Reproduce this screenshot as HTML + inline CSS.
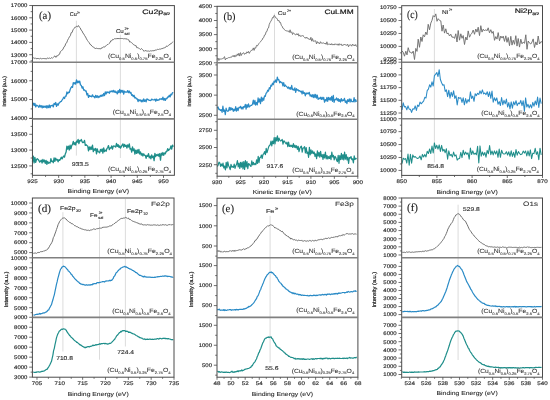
<!DOCTYPE html><html><head><meta charset="utf-8"><style>html,body{margin:0;padding:0;background:#fff;width:550px;height:400px;overflow:hidden}svg{display:block;will-change:transform}.tk{stroke:#4a4a4a;stroke-width:0.8}.fr{fill:none;stroke:#4a4a4a;stroke-width:1}.dv{stroke:#808080;stroke-width:1.6}text{font-family:"Liberation Sans",sans-serif;fill:#3a3a3a;text-rendering:geometricPrecision}.tl{font-size:5.2px;fill:#303030;stroke:#303030;stroke-width:0.16px}.xl{font-size:5.8px;fill:#2a2a2a;stroke:#2a2a2a;stroke-width:0.1px}.yl{font-size:5.4px;fill:#222;stroke:#222;stroke-width:0.22px}.an{font-size:5.6px;fill:#2a2a2a;stroke:#2a2a2a;stroke-width:0.12px}.sup{font-size:3.9px;fill:#333;stroke:#333;stroke-width:0.15px}.smp{font-size:6.1px;stroke:#3a3a3a;stroke-width:0.1px}.sb{font-size:3.7px;fill:#555;stroke:#555;stroke-width:0.14px}.ttl{font-size:6.4px;fill:#1a1a1a;stroke:#1a1a1a;stroke-width:0.2px}.ttl2{font-size:6.3px;fill:#2a2a2a;stroke:#2a2a2a;stroke-width:0.05px}.lab{font-family:"Liberation Serif",serif;font-size:11px;fill:#1a1a1a;stroke:#1a1a1a;stroke-width:0.1px}</style></head><body><svg width="550" height="400" viewBox="0 0 550 400">
<line x1="76.4" y1="20.7" x2="76.4" y2="155.6" stroke="#d8d8d8" stroke-width="0.9"/>
<line x1="120.4" y1="34.7" x2="120.4" y2="158" stroke="#d8d8d8" stroke-width="0.9"/>
<line x1="274.5" y1="13.5" x2="274.5" y2="162.4" stroke="#d8d8d8" stroke-width="0.9"/>
<line x1="434.4" y1="9" x2="434.4" y2="162.4" stroke="#d8d8d8" stroke-width="0.9"/>
<line x1="62.9" y1="212.2" x2="62.9" y2="351.5" stroke="#d8d8d8" stroke-width="0.9"/>
<line x1="99.5" y1="219.7" x2="99.5" y2="359.7" stroke="#d8d8d8" stroke-width="0.9"/>
<line x1="125.4" y1="199" x2="125.4" y2="346.5" stroke="#d8d8d8" stroke-width="0.9"/>
<line x1="270.1" y1="215.8" x2="270.1" y2="362.5" stroke="#d8d8d8" stroke-width="0.9"/>
<line x1="458.1" y1="204.7" x2="458.1" y2="360" stroke="#d8d8d8" stroke-width="0.9"/>
<path d="M32.5,58.4 L33.4,57.8 L34.3,58.5 L35.2,57.8 L36.1,58.8 L37.0,58.5 L37.9,58.5 L38.8,58.6 L39.7,59.0 L40.6,58.1 L41.5,58.8 L42.4,58.6 L43.3,58.5 L44.2,58.6 L45.1,58.6 L46.0,58.8 L46.9,58.7 L47.8,57.9 L48.7,58.5 L49.6,58.0 L50.5,58.5 L51.4,57.6 L52.3,58.4 L53.2,57.5 L54.1,56.4 L55.0,55.9 L55.9,57.4 L56.8,55.7 L57.7,56.0 L58.6,54.6 L59.5,54.3 L60.4,51.6 L61.3,51.0 L62.2,50.1 L63.1,49.0 L64.0,46.8 L64.9,46.2 L65.8,43.4 L66.7,42.8 L67.6,40.2 L68.5,38.6 L69.4,36.9 L70.3,35.8 L71.2,32.7 L72.1,32.5 L73.0,29.8 L73.9,28.8 L74.8,27.3 L75.7,27.2 L76.6,26.2 L77.5,26.8 L78.4,25.5 L79.3,27.1 L80.2,27.8 L81.1,30.1 L82.0,30.8 L82.9,33.0 L83.8,34.0 L84.7,35.7 L85.6,37.0 L86.5,38.9 L87.4,40.4 L88.3,41.6 L89.2,42.7 L90.1,44.4 L91.0,44.8 L91.9,46.1 L92.8,46.8 L93.7,47.3 L94.6,47.8 L95.5,49.0 L96.4,48.0 L97.3,48.5 L98.2,48.6 L99.1,48.7 L100.0,48.6 L100.9,49.0 L101.8,47.6 L102.7,47.8 L103.6,46.7 L104.5,47.2 L105.4,46.1 L106.3,45.6 L107.2,44.6 L108.1,44.5 L109.0,43.5 L109.9,42.8 L110.8,40.8 L111.7,40.9 L112.6,39.4 L113.5,39.6 L114.4,38.7 L115.3,38.8 L116.2,38.5 L117.1,39.0 L118.0,38.0 L118.9,38.9 L119.8,38.5 L120.7,38.5 L121.6,38.5 L122.5,38.5 L123.4,38.8 L124.3,38.7 L125.2,38.6 L126.1,39.3 L127.0,38.6 L127.9,39.7 L128.8,39.9 L129.7,42.1 L130.6,41.9 L131.5,42.6 L132.4,43.3 L133.3,44.5 L134.2,44.9 L135.1,45.7 L136.0,45.5 L136.9,47.9 L137.8,47.6 L138.7,48.2 L139.6,48.7 L140.5,49.6 L141.4,48.5 L142.3,49.4 L143.2,50.1 L144.1,51.4 L145.0,50.4 L145.9,50.8 L146.8,51.0 L147.7,51.1 L148.6,51.0 L149.5,51.3 L150.4,50.8 L151.3,51.0 L152.2,50.6 L153.1,51.0 L154.0,50.3 L154.9,50.6 L155.8,49.9 L156.7,50.1 L157.6,49.2 L158.5,49.5 L159.4,49.1 L160.3,49.2 L161.2,48.7 L162.1,48.8 L163.0,48.0 L163.9,48.1 L164.8,47.6 L165.7,47.3 L166.6,45.9 L167.5,46.4 L168.4,45.4 L169.3,45.0 L170.2,43.9 L171.1,43.8 L172.0,42.8 L172.9,41.6" fill="none" stroke="#6e6e6e" stroke-width="0.95" stroke-linejoin="round"/>
<path d="M32.5,104.4 L33.3,103.2 L34.1,105.5 L34.9,103.3 L35.7,106.9 L36.5,105.2 L37.3,105.6 L38.1,106.0 L38.9,107.3 L39.7,105.2 L40.5,106.9 L41.3,105.7 L42.1,107.9 L42.9,105.8 L43.7,107.4 L44.5,106.3 L45.3,107.3 L46.1,105.7 L46.9,108.1 L47.7,105.8 L48.5,107.6 L49.3,105.0 L50.1,107.7 L50.9,105.6 L51.7,105.7 L52.5,105.1 L53.3,106.9 L54.1,103.3 L54.9,104.4 L55.7,102.5 L56.5,106.4 L57.3,103.9 L58.1,105.2 L58.9,103.3 L59.7,102.5 L60.5,101.6 L61.3,101.3 L62.1,100.0 L62.9,98.8 L63.7,97.3 L64.5,98.5 L65.3,96.1 L66.1,96.2 L66.9,92.0 L67.7,93.7 L68.5,92.2 L69.3,92.5 L70.1,89.7 L70.9,87.8 L71.7,86.7 L72.5,87.3 L73.3,82.7 L74.1,83.9 L74.9,82.6 L75.7,84.1 L76.5,79.8 L77.3,82.8 L78.1,81.1 L78.9,82.6 L79.7,81.1 L80.5,85.0 L81.3,85.3 L82.1,88.2 L82.9,86.8 L83.7,90.0 L84.5,89.8 L85.3,91.0 L86.1,90.8 L86.9,94.9 L87.7,93.5 L88.5,97.4 L89.3,95.5 L90.1,96.3 L90.9,96.2 L91.7,96.8 L92.5,94.8 L93.3,96.5 L94.1,96.7 L94.9,97.8 L95.7,95.3 L96.5,97.3 L97.3,95.8 L98.1,97.7 L98.9,96.3 L99.7,97.0 L100.5,95.4 L101.3,96.2 L102.1,94.9 L102.9,96.1 L103.7,93.5 L104.5,95.6 L105.3,91.9 L106.1,94.0 L106.9,91.8 L107.7,92.6 L108.5,92.2 L109.3,93.2 L110.1,91.1 L110.9,91.9 L111.7,90.9 L112.5,91.7 L113.3,90.4 L114.1,92.3 L114.9,90.9 L115.7,92.5 L116.5,91.9 L117.3,93.9 L118.1,90.7 L118.9,92.7 L119.7,89.4 L120.5,92.8 L121.3,90.3 L122.1,92.1 L122.9,90.4 L123.7,94.1 L124.5,91.1 L125.3,92.0 L126.1,92.2 L126.9,92.1 L127.7,90.6 L128.5,92.7 L129.3,91.1 L130.1,93.1 L130.9,92.5 L131.7,95.4 L132.5,94.8 L133.3,96.7 L134.1,95.4 L134.9,98.0 L135.7,97.5 L136.5,98.8 L137.3,98.8 L138.1,101.6 L138.9,99.5 L139.7,100.7 L140.5,100.0 L141.3,101.8 L142.1,100.1 L142.9,101.7 L143.7,98.9 L144.5,101.4 L145.3,99.9 L146.1,101.8 L146.9,98.8 L147.7,99.4 L148.5,99.9 L149.3,100.3 L150.1,100.4 L150.9,100.5 L151.7,99.2 L152.5,99.6 L153.3,99.8 L154.1,99.9 L154.9,99.1 L155.7,101.2 L156.5,99.1 L157.3,100.4 L158.1,100.0 L158.9,100.2 L159.7,98.8 L160.5,99.2 L161.3,98.7 L162.1,99.6 L162.9,97.2 L163.7,100.2 L164.5,98.5 L165.3,100.4 L166.1,98.3 L166.9,98.7 L167.7,97.0 L168.5,97.1 L169.3,95.3 L170.1,96.9 L170.9,94.2 L171.7,94.8 L172.5,92.6 L173.3,92.6" fill="none" stroke="#2b8bc6" stroke-width="1.3" stroke-linejoin="round"/>
<path d="M32.5,161.7 L33.3,156.2 L34.1,162.8 L34.9,157.4 L35.7,162.4 L36.5,159.5 L37.3,158.8 L38.1,159.5 L38.9,160.5 L39.7,162.1 L40.5,161.2 L41.3,160.3 L42.1,163.0 L42.9,159.5 L43.7,161.9 L44.5,160.1 L45.3,163.4 L46.1,160.4 L46.9,164.3 L47.7,161.4 L48.5,163.3 L49.3,162.7 L50.1,163.0 L50.9,158.6 L51.7,161.5 L52.5,161.2 L53.3,162.7 L54.1,157.9 L54.9,161.3 L55.7,158.2 L56.5,160.1 L57.3,159.4 L58.1,161.9 L58.9,159.7 L59.7,160.4 L60.5,158.9 L61.3,157.2 L62.1,158.9 L62.9,157.2 L63.7,156.0 L64.5,157.1 L65.3,153.9 L66.1,152.1 L66.9,146.1 L67.7,149.2 L68.5,146.2 L69.3,150.0 L70.1,145.1 L70.9,148.8 L71.7,145.7 L72.5,144.4 L73.3,141.5 L74.1,144.7 L74.9,142.7 L75.7,145.0 L76.5,141.1 L77.3,142.2 L78.1,139.3 L78.9,143.6 L79.7,140.5 L80.5,140.8 L81.3,139.5 L82.1,141.8 L82.9,142.7 L83.7,142.2 L84.5,140.4 L85.3,145.4 L86.1,144.7 L86.9,145.4 L87.7,146.0 L88.5,150.8 L89.3,146.9 L90.1,149.6 L90.9,146.9 L91.7,149.4 L92.5,145.1 L93.3,151.7 L94.1,148.9 L94.9,150.3 L95.7,148.3 L96.5,153.9 L97.3,148.9 L98.1,151.8 L98.9,151.9 L99.7,152.7 L100.5,149.4 L101.3,151.2 L102.1,148.9 L102.9,153.2 L103.7,148.0 L104.5,151.5 L105.3,150.2 L106.1,151.2 L106.9,148.6 L107.7,147.6 L108.5,145.6 L109.3,149.7 L110.1,148.0 L110.9,148.2 L111.7,145.9 L112.5,149.1 L113.3,146.2 L114.1,146.0 L114.9,146.4 L115.7,147.1 L116.5,143.3 L117.3,146.4 L118.1,144.6 L118.9,147.4 L119.7,145.9 L120.5,148.2 L121.3,146.6 L122.1,145.1 L122.9,143.9 L123.7,147.0 L124.5,144.4 L125.3,146.4 L126.1,145.2 L126.9,148.2 L127.7,144.9 L128.5,147.0 L129.3,143.9 L130.1,149.1 L130.9,148.7 L131.7,152.2 L132.5,146.9 L133.3,150.6 L134.1,148.9 L134.9,154.1 L135.7,150.2 L136.5,153.4 L137.3,149.9 L138.1,153.1 L138.9,149.4 L139.7,154.0 L140.5,151.9 L141.3,155.2 L142.1,153.5 L142.9,156.0 L143.7,153.8 L144.5,155.3 L145.3,155.3 L146.1,158.3 L146.9,155.3 L147.7,156.4 L148.5,153.6 L149.3,157.8 L150.1,156.2 L150.9,158.8 L151.7,154.9 L152.5,157.6 L153.3,156.1 L154.1,160.6 L154.9,153.4 L155.7,156.5 L156.5,154.7 L157.3,155.6 L158.1,154.1 L158.9,156.3 L159.7,153.7 L160.5,160.2 L161.3,153.2 L162.1,155.2 L162.9,152.5 L163.7,155.3 L164.5,153.0 L165.3,153.7 L166.1,151.5 L166.9,151.5 L167.7,148.6 L168.5,150.5 L169.3,149.4 L170.1,148.8 L170.9,145.9 L171.7,149.1 L172.5,145.1 L173.3,146.8" fill="none" stroke="#1f8e8a" stroke-width="1.3" stroke-linejoin="round"/>
<path d="M217.3,59.4 L218.1,58.1 L218.9,60.5 L219.7,58.6 L220.5,59.1 L221.3,59.0 L222.1,58.9 L222.9,58.4 L223.7,58.2 L224.5,56.6 L225.3,59.9 L226.1,58.4 L226.9,58.6 L227.7,58.2 L228.5,57.6 L229.3,57.7 L230.1,57.0 L230.9,57.5 L231.7,57.1 L232.5,55.7 L233.3,56.7 L234.1,55.1 L234.9,57.1 L235.7,55.3 L236.5,56.1 L237.3,53.9 L238.1,55.5 L238.9,53.2 L239.7,56.1 L240.5,52.6 L241.3,55.5 L242.1,53.6 L242.9,53.3 L243.7,52.7 L244.5,54.4 L245.3,53.2 L246.1,53.8 L246.9,51.8 L247.7,53.0 L248.5,51.4 L249.3,53.4 L250.1,51.7 L250.9,51.0 L251.7,50.0 L252.5,50.1 L253.3,47.9 L254.1,50.4 L254.9,47.6 L255.7,48.2 L256.5,45.4 L257.3,46.0 L258.1,44.9 L258.9,43.5 L259.7,42.6 L260.5,41.8 L261.3,40.6 L262.1,40.0 L262.9,38.0 L263.7,37.6 L264.5,35.0 L265.3,34.8 L266.1,31.8 L266.9,31.5 L267.7,28.5 L268.5,28.0 L269.3,24.2 L270.1,22.6 L270.9,21.1 L271.7,19.9 L272.5,17.5 L273.3,17.8 L274.1,15.4 L274.9,16.1 L275.7,17.8 L276.5,18.0 L277.3,19.1 L278.1,21.0 L278.9,20.3 L279.7,22.5 L280.5,22.4 L281.3,25.4 L282.1,26.1 L282.9,28.2 L283.7,28.5 L284.5,29.8 L285.3,30.4 L286.1,30.9 L286.9,30.8 L287.7,31.1 L288.5,31.0 L289.3,32.4 L290.1,29.8 L290.9,32.7 L291.7,31.8 L292.5,34.5 L293.3,32.7 L294.1,33.8 L294.9,34.3 L295.7,35.0 L296.5,33.7 L297.3,35.0 L298.1,33.6 L298.9,36.2 L299.7,34.9 L300.5,36.4 L301.3,35.9 L302.1,36.2 L302.9,35.3 L303.7,36.7 L304.5,37.5 L305.3,38.3 L306.1,37.0 L306.9,38.3 L307.7,37.8 L308.5,39.1 L309.3,38.9 L310.1,39.9 L310.9,37.3 L311.7,41.2 L312.5,38.6 L313.3,41.4 L314.1,40.7 L314.9,41.4 L315.7,40.7 L316.5,43.9 L317.3,41.6 L318.1,43.2 L318.9,42.5 L319.7,43.9 L320.5,41.7 L321.3,43.1 L322.1,43.1 L322.9,43.2 L323.7,42.8 L324.5,43.8 L325.3,43.0 L326.1,44.4 L326.9,41.8 L327.7,44.8 L328.5,44.2 L329.3,44.3 L330.1,43.9 L330.9,45.0 L331.7,43.6 L332.5,45.1 L333.3,44.1 L334.1,45.1 L334.9,43.7 L335.7,44.4 L336.5,44.2 L337.3,45.2 L338.1,43.8 L338.9,45.4 L339.7,43.7 L340.5,44.6 L341.3,44.1 L342.1,45.8 L342.9,44.7 L343.7,45.1 L344.5,44.0 L345.3,45.0 L346.1,44.8 L346.9,45.5 L347.7,44.2 L348.5,46.8 L349.3,45.0 L350.1,44.9 L350.9,44.9 L351.7,46.2 L352.5,44.1 L353.3,45.4 L354.1,44.7 L354.9,46.0 L355.7,44.5 L356.5,46.6" fill="none" stroke="#707070" stroke-width="0.9" stroke-linejoin="round"/>
<path d="M217.3,108.3 L218.1,106.9 L218.9,109.6 L219.7,109.2 L220.5,110.5 L221.3,109.6 L222.1,112.3 L222.9,106.2 L223.7,111.5 L224.5,110.0 L225.3,114.7 L226.1,108.1 L226.9,110.6 L227.7,111.3 L228.5,111.0 L229.3,107.3 L230.1,110.3 L230.9,107.5 L231.7,109.7 L232.5,108.5 L233.3,111.4 L234.1,109.2 L234.9,110.8 L235.7,106.6 L236.5,111.1 L237.3,108.2 L238.1,110.6 L238.9,107.3 L239.7,107.7 L240.5,106.3 L241.3,108.9 L242.1,107.0 L242.9,109.1 L243.7,106.5 L244.5,107.2 L245.3,104.4 L246.1,109.1 L246.9,104.7 L247.7,107.3 L248.5,103.8 L249.3,107.0 L250.1,106.1 L250.9,105.4 L251.7,105.3 L252.5,104.2 L253.3,100.2 L254.1,104.4 L254.9,100.4 L255.7,105.2 L256.5,102.4 L257.3,104.9 L258.1,97.8 L258.9,102.1 L259.7,98.8 L260.5,103.7 L261.3,97.2 L262.1,101.3 L262.9,97.9 L263.7,100.3 L264.5,95.9 L265.3,96.4 L266.1,93.2 L266.9,92.5 L267.7,90.2 L268.5,91.2 L269.3,87.7 L270.1,89.0 L270.9,85.1 L271.7,86.0 L272.5,83.2 L273.3,84.7 L274.1,81.0 L274.9,82.3 L275.7,79.9 L276.5,82.3 L277.3,77.0 L278.1,80.0 L278.9,79.7 L279.7,82.8 L280.5,81.5 L281.3,82.7 L282.1,82.4 L282.9,86.0 L283.7,82.6 L284.5,86.5 L285.3,85.0 L286.1,86.2 L286.9,86.7 L287.7,88.2 L288.5,87.0 L289.3,88.9 L290.1,87.5 L290.9,89.5 L291.7,85.3 L292.5,89.7 L293.3,89.1 L294.1,90.3 L294.9,87.8 L295.7,92.3 L296.5,88.7 L297.3,90.1 L298.1,89.7 L298.9,91.1 L299.7,90.6 L300.5,91.8 L301.3,91.1 L302.1,94.0 L302.9,90.9 L303.7,93.5 L304.5,92.6 L305.3,95.8 L306.1,92.9 L306.9,94.0 L307.7,93.0 L308.5,93.9 L309.3,92.4 L310.1,96.2 L310.9,94.8 L311.7,96.7 L312.5,94.7 L313.3,97.6 L314.1,94.4 L314.9,97.7 L315.7,94.4 L316.5,98.1 L317.3,95.1 L318.1,99.5 L318.9,98.1 L319.7,98.7 L320.5,97.2 L321.3,99.5 L322.1,97.2 L322.9,99.4 L323.7,97.4 L324.5,102.2 L325.3,99.6 L326.1,101.0 L326.9,97.3 L327.7,101.5 L328.5,97.4 L329.3,99.9 L330.1,97.6 L330.9,100.4 L331.7,96.3 L332.5,101.4 L333.3,95.3 L334.1,102.4 L334.9,99.5 L335.7,99.6 L336.5,97.9 L337.3,100.6 L338.1,98.5 L338.9,101.5 L339.7,99.5 L340.5,102.2 L341.3,98.5 L342.1,101.1 L342.9,99.9 L343.7,100.5 L344.5,98.3 L345.3,102.5 L346.1,100.8 L346.9,103.7 L347.7,99.7 L348.5,101.5 L349.3,98.8 L350.1,102.1 L350.9,99.0 L351.7,101.6 L352.5,101.5 L353.3,101.8 L354.1,97.6 L354.9,102.0 L355.7,99.6 L356.5,101.7" fill="none" stroke="#2b8bc6" stroke-width="1.2" stroke-linejoin="round"/>
<path d="M217.4,166.6 L218.2,164.9 L219.0,162.1 L219.8,162.9 L220.6,166.4 L221.4,164.0 L222.2,166.1 L223.0,163.1 L223.8,168.0 L224.6,166.0 L225.4,170.0 L226.2,162.3 L227.0,167.9 L227.8,161.8 L228.6,165.7 L229.4,167.2 L230.2,169.6 L231.0,164.3 L231.8,167.2 L232.6,166.5 L233.4,167.4 L234.2,164.2 L235.0,168.4 L235.8,165.8 L236.6,164.3 L237.4,160.7 L238.2,167.0 L239.0,163.1 L239.8,168.4 L240.6,162.4 L241.4,167.2 L242.2,162.1 L243.0,169.0 L243.8,161.5 L244.6,169.5 L245.4,160.6 L246.2,166.8 L247.0,161.7 L247.8,168.7 L248.6,163.5 L249.4,164.4 L250.2,165.8 L251.0,166.4 L251.8,160.8 L252.6,165.0 L253.4,162.4 L254.2,164.7 L255.0,163.6 L255.8,164.7 L256.6,159.9 L257.4,163.5 L258.2,156.3 L259.0,162.7 L259.8,157.5 L260.6,157.4 L261.4,155.0 L262.2,158.5 L263.0,154.5 L263.8,153.8 L264.6,151.6 L265.4,154.6 L266.2,148.3 L267.0,152.7 L267.8,149.8 L268.6,147.1 L269.4,145.4 L270.2,145.0 L271.0,141.2 L271.8,145.8 L272.6,141.1 L273.4,143.7 L274.2,137.5 L275.0,143.9 L275.8,137.6 L276.6,140.9 L277.4,135.8 L278.2,141.4 L279.0,138.1 L279.8,140.2 L280.6,141.0 L281.4,140.5 L282.2,139.4 L283.0,144.2 L283.8,140.8 L284.6,141.5 L285.4,142.9 L286.2,143.8 L287.0,142.2 L287.8,146.7 L288.6,142.0 L289.4,146.5 L290.2,145.2 L291.0,146.6 L291.8,145.2 L292.6,147.4 L293.4,143.7 L294.2,147.4 L295.0,145.2 L295.8,147.7 L296.6,145.7 L297.4,149.3 L298.2,146.3 L299.0,151.6 L299.8,148.5 L300.6,147.0 L301.4,146.1 L302.2,152.2 L303.0,148.0 L303.8,147.9 L304.6,146.7 L305.4,153.0 L306.2,147.7 L307.0,153.4 L307.8,152.1 L308.6,157.3 L309.4,147.3 L310.2,154.8 L311.0,149.8 L311.8,153.6 L312.6,150.8 L313.4,153.7 L314.2,152.0 L315.0,156.3 L315.8,153.8 L316.6,158.6 L317.4,150.8 L318.2,156.1 L319.0,152.3 L319.8,157.1 L320.6,151.4 L321.4,156.7 L322.2,154.6 L323.0,159.5 L323.8,154.4 L324.6,158.0 L325.4,152.1 L326.2,158.8 L327.0,155.5 L327.8,159.0 L328.6,156.6 L329.4,158.5 L330.2,155.7 L331.0,159.6 L331.8,152.0 L332.6,156.9 L333.4,155.4 L334.2,159.8 L335.0,156.3 L335.8,157.5 L336.6,160.2 L337.4,161.6 L338.2,155.3 L339.0,163.3 L339.8,155.5 L340.6,159.7 L341.4,153.4 L342.2,159.4 L343.0,154.5 L343.8,159.9 L344.6,152.1 L345.4,159.2 L346.2,154.5 L347.0,160.0 L347.8,157.2 L348.6,163.4 L349.4,157.5 L350.2,158.2 L351.0,156.5 L351.8,159.7 L352.6,158.8 L353.4,162.9 L354.2,155.8 L355.0,159.5 L355.8,158.3 L356.6,158.9" fill="none" stroke="#1f8e8a" stroke-width="1.2" stroke-linejoin="round"/>
<path d="M402.0,50.9 L403.2,52.2 L404.5,56.2 L405.8,51.2 L407.0,54.9 L408.2,47.7 L409.5,52.1 L410.8,52.4 L412.0,53.3 L413.2,51.1 L414.5,59.5 L415.8,48.4 L417.0,51.4 L418.2,39.2 L419.5,47.3 L420.8,37.0 L422.0,41.5 L423.2,34.8 L424.5,36.8 L425.8,32.0 L427.0,34.7 L428.2,24.3 L429.5,29.8 L430.8,23.1 L432.0,20.3 L433.2,15.6 L434.5,17.0 L435.8,13.9 L437.0,21.3 L438.2,18.7 L439.5,20.4 L440.8,20.9 L442.0,31.2 L443.2,25.0 L444.5,33.1 L445.8,28.8 L447.0,33.8 L448.2,33.1 L449.5,36.0 L450.8,34.2 L452.0,37.3 L453.2,36.8 L454.5,38.4 L455.8,33.8 L457.0,42.0 L458.2,30.5 L459.5,40.2 L460.8,33.8 L462.0,38.3 L463.2,35.5 L464.5,44.5 L465.8,37.0 L467.0,40.0 L468.2,30.9 L469.5,37.2 L470.8,34.4 L472.0,33.1 L473.2,30.0 L474.5,34.3 L475.8,29.0 L477.0,32.1 L478.2,27.2 L479.5,35.6 L480.8,25.7 L482.0,32.1 L483.2,29.2 L484.5,31.0 L485.8,29.6 L487.0,30.8 L488.2,27.8 L489.5,32.8 L490.8,29.7 L492.0,33.3 L493.2,31.4 L494.5,40.3 L495.8,36.6 L497.0,39.1 L498.2,32.6 L499.5,40.7 L500.8,36.0 L502.0,38.1 L503.2,36.1 L504.5,41.4 L505.8,35.8 L507.0,42.3 L508.2,37.5 L509.5,45.7 L510.8,36.3 L512.0,45.1 L513.2,40.2 L514.5,44.3 L515.8,35.7 L517.0,46.1 L518.2,38.5 L519.5,47.1 L520.8,39.2 L522.0,43.8 L523.2,42.1 L524.5,43.3 L525.8,34.8 L527.0,49.3 L528.2,41.0 L529.5,43.1 L530.8,44.0 L532.0,42.0 L533.2,38.9 L534.5,47.5 L535.8,41.9 L537.0,45.0 L538.2,36.0 L539.5,44.0 L540.8,41.8 L542.0,41.9" fill="none" stroke="#707070" stroke-width="0.95" stroke-linejoin="round"/>
<path d="M402.0,110.0 L403.2,102.8 L404.4,106.9 L405.6,106.6 L406.8,109.8 L408.0,105.8 L409.2,109.2 L410.4,109.3 L411.6,112.4 L412.8,108.8 L414.0,109.3 L415.2,105.9 L416.4,110.4 L417.6,105.0 L418.8,106.4 L420.0,102.1 L421.2,103.8 L422.4,102.4 L423.6,101.1 L424.8,97.3 L426.0,98.0 L427.2,90.6 L428.4,89.1 L429.6,84.8 L430.8,87.1 L432.0,81.8 L433.2,86.0 L434.4,75.7 L435.6,74.4 L436.8,72.5 L438.0,76.5 L439.2,69.7 L440.4,79.5 L441.6,82.8 L442.8,85.2 L444.0,84.7 L445.2,91.4 L446.4,89.9 L447.6,96.6 L448.8,90.2 L450.0,98.2 L451.2,92.2 L452.4,96.4 L453.6,90.8 L454.8,98.4 L456.0,95.8 L457.2,104.9 L458.4,97.4 L459.6,98.2 L460.8,97.8 L462.0,102.4 L463.2,97.8 L464.4,104.8 L465.6,98.6 L466.8,103.2 L468.0,99.6 L469.2,101.8 L470.4,91.8 L471.6,98.4 L472.8,96.1 L474.0,101.3 L475.2,93.7 L476.4,95.6 L477.6,93.3 L478.8,94.5 L480.0,90.9 L481.2,93.7 L482.4,89.9 L483.6,93.9 L484.8,93.0 L486.0,94.6 L487.2,91.7 L488.4,96.5 L489.6,91.9 L490.8,98.3 L492.0,91.1 L493.2,102.2 L494.4,97.8 L495.6,100.7 L496.8,97.9 L498.0,104.2 L499.2,101.6 L500.4,105.5 L501.6,97.5 L502.8,104.8 L504.0,100.3 L505.2,103.8 L506.4,99.1 L507.6,107.0 L508.8,102.6 L510.0,108.9 L511.2,101.9 L512.4,108.2 L513.6,101.8 L514.8,104.8 L516.0,100.7 L517.2,105.6 L518.4,103.0 L519.6,103.7 L520.8,100.4 L522.0,105.6 L523.2,100.7 L524.4,111.3 L525.6,97.9 L526.8,107.0 L528.0,104.3 L529.2,107.9 L530.4,104.8 L531.6,107.9 L532.8,102.4 L534.0,106.2 L535.2,101.0 L536.4,104.8 L537.6,97.1 L538.8,107.4 L540.0,98.1 L541.2,103.7" fill="none" stroke="#2b8bc6" stroke-width="1.05" stroke-linejoin="round"/>
<path d="M402.0,163.6 L403.2,158.2 L404.4,159.3 L405.6,158.6 L406.8,163.0 L408.0,154.1 L409.2,165.3 L410.4,154.3 L411.6,163.2 L412.8,154.9 L414.0,157.3 L415.2,156.5 L416.4,157.9 L417.6,158.5 L418.8,157.9 L420.0,156.0 L421.2,159.8 L422.4,154.4 L423.6,156.9 L424.8,154.4 L426.0,156.9 L427.2,151.3 L428.4,153.5 L429.6,149.0 L430.8,153.5 L432.0,146.0 L433.2,153.0 L434.4,142.9 L435.6,148.5 L436.8,145.3 L438.0,149.1 L439.2,144.9 L440.4,151.4 L441.6,145.4 L442.8,151.1 L444.0,149.4 L445.2,152.7 L446.4,148.7 L447.6,159.2 L448.8,150.8 L450.0,155.7 L451.2,154.4 L452.4,157.0 L453.6,152.1 L454.8,156.1 L456.0,154.9 L457.2,160.1 L458.4,158.7 L459.6,158.4 L460.8,152.4 L462.0,157.6 L463.2,150.2 L464.4,154.8 L465.6,152.1 L466.8,154.3 L468.0,152.9 L469.2,159.1 L470.4,148.1 L471.6,154.5 L472.8,150.8 L474.0,154.3 L475.2,153.1 L476.4,154.8 L477.6,146.3 L478.8,163.0 L480.0,145.9 L481.2,156.2 L482.4,152.0 L483.6,155.2 L484.8,152.5 L486.0,157.2 L487.2,150.4 L488.4,153.7 L489.6,145.5 L490.8,154.7 L492.0,151.0 L493.2,154.9 L494.4,150.9 L495.6,154.0 L496.8,150.9 L498.0,157.3 L499.2,149.0 L500.4,157.3 L501.6,150.3 L502.8,153.4 L504.0,154.1 L505.2,153.8 L506.4,151.8 L507.6,155.0 L508.8,151.8 L510.0,156.3 L511.2,150.8 L512.4,156.4 L513.6,152.3 L514.8,157.3 L516.0,149.6 L517.2,155.2 L518.4,151.6 L519.6,153.6 L520.8,154.6 L522.0,154.0 L523.2,151.1 L524.4,153.1 L525.6,151.0 L526.8,155.9 L528.0,150.9 L529.2,156.0 L530.4,149.9 L531.6,158.6 L532.8,153.2 L534.0,153.6 L535.2,148.3 L536.4,154.4 L537.6,151.8 L538.8,159.7 L540.0,148.2 L541.2,154.9" fill="none" stroke="#1f8e8a" stroke-width="1.05" stroke-linejoin="round"/>
<path d="M33.3,253.3 L34.1,253.2 L34.9,253.1 L35.7,253.0 L36.5,253.4 L37.3,252.6 L38.1,252.8 L38.9,252.2 L39.7,252.5 L40.5,251.6 L41.3,251.7 L42.1,251.4 L42.9,251.7 L43.7,250.8 L44.5,250.9 L45.3,250.4 L46.1,250.6 L46.9,249.5 L47.7,249.2 L48.5,248.0 L49.3,246.8 L50.1,245.1 L50.9,244.1 L51.7,242.7 L52.5,241.0 L53.3,237.7 L54.1,236.3 L54.9,234.0 L55.7,231.9 L56.5,229.4 L57.3,227.3 L58.1,224.6 L58.9,223.1 L59.7,221.3 L60.5,220.4 L61.3,219.3 L62.1,218.5 L62.9,217.9 L63.7,218.0 L64.5,217.9 L65.3,218.5 L66.1,219.0 L66.9,220.3 L67.7,220.8 L68.5,221.5 L69.3,222.2 L70.1,222.7 L70.9,222.8 L71.7,223.8 L72.5,223.8 L73.3,224.4 L74.1,225.2 L74.9,225.9 L75.7,225.9 L76.5,226.6 L77.3,226.5 L78.1,227.6 L78.9,227.4 L79.7,228.3 L80.5,228.1 L81.3,229.0 L82.1,228.9 L82.9,229.4 L83.7,229.5 L84.5,229.8 L85.3,229.7 L86.1,230.4 L86.9,230.0 L87.7,230.4 L88.5,230.2 L89.3,230.7 L90.1,230.0 L90.9,230.1 L91.7,229.9 L92.5,229.6 L93.3,228.9 L94.1,229.4 L94.9,228.9 L95.7,229.5 L96.5,228.7 L97.3,228.7 L98.1,228.5 L98.9,228.5 L99.7,228.0 L100.5,228.2 L101.3,228.1 L102.1,228.0 L102.9,227.1 L103.7,227.3 L104.5,227.2 L105.3,227.2 L106.1,227.0 L106.9,227.2 L107.7,226.8 L108.5,226.6 L109.3,226.0 L110.1,226.2 L110.9,225.7 L111.7,225.8 L112.5,224.6 L113.3,224.4 L114.1,223.6 L114.9,223.4 L115.7,222.3 L116.5,222.1 L117.3,221.4 L118.1,220.8 L118.9,219.9 L119.7,219.7 L120.5,218.7 L121.3,218.4 L122.1,218.5 L122.9,218.3 L123.7,218.0 L124.5,218.0 L125.3,217.3 L126.1,218.1 L126.9,217.7 L127.7,218.5 L128.5,218.0 L129.3,219.5 L130.1,219.4 L130.9,219.8 L131.7,220.6 L132.5,221.1 L133.3,221.3 L134.1,222.1 L134.9,221.6 L135.7,222.3 L136.5,222.6 L137.3,223.0 L138.1,222.8 L138.9,223.9 L139.7,223.9 L140.5,224.2 L141.3,223.6 L142.1,224.8 L142.9,224.6 L143.7,225.0 L144.5,224.8 L145.3,224.9 L146.1,224.9 L146.9,225.2 L147.7,224.5 L148.5,224.9 L149.3,224.9 L150.1,225.1 L150.9,225.2 L151.7,225.1 L152.5,225.2 L153.3,224.9 L154.1,224.8 L154.9,225.0 L155.7,225.0 L156.5,225.3 L157.3,224.8 L158.1,225.5 L158.9,225.0 L159.7,225.4 L160.5,224.9 L161.3,225.4 L162.1,224.4 L162.9,225.1 L163.7,224.7 L164.5,225.0 L165.3,224.7 L166.1,224.9 L166.9,225.4 L167.7,225.2 L168.5,224.7 L169.3,224.7 L170.1,224.4 L170.9,225.2 L171.7,224.7 L172.5,224.6 L173.3,224.6" fill="none" stroke="#686868" stroke-width="0.95" stroke-linejoin="round"/>
<path d="M33.3,315.0 L34.0,315.0 L34.7,315.1 L35.4,314.5 L36.1,314.5 L36.8,314.2 L37.5,314.4 L38.2,314.1 L38.9,314.2 L39.6,313.5 L40.3,314.2 L41.0,313.5 L41.7,313.7 L42.4,313.2 L43.1,313.1 L43.8,312.8 L44.5,313.0 L45.2,312.3 L45.9,312.2 L46.6,311.8 L47.3,311.0 L48.0,310.2 L48.7,310.0 L49.4,308.3 L50.1,307.1 L50.8,305.7 L51.5,304.6 L52.2,302.0 L52.9,299.8 L53.6,297.1 L54.3,294.8 L55.0,291.4 L55.7,288.1 L56.4,284.7 L57.1,281.9 L57.8,278.6 L58.5,276.1 L59.2,273.5 L59.9,271.1 L60.6,269.1 L61.3,268.4 L62.0,267.1 L62.7,266.8 L63.4,266.1 L64.1,266.5 L64.8,266.6 L65.5,267.4 L66.2,268.1 L66.9,269.1 L67.6,269.5 L68.3,270.9 L69.0,271.3 L69.7,272.2 L70.4,272.9 L71.1,274.3 L71.8,274.4 L72.5,276.0 L73.2,276.7 L73.9,277.5 L74.6,278.5 L75.3,279.2 L76.0,279.8 L76.7,280.7 L77.4,281.1 L78.1,281.9 L78.8,282.1 L79.5,283.3 L80.2,283.4 L80.9,284.2 L81.6,284.0 L82.3,284.6 L83.0,284.3 L83.7,284.7 L84.4,284.8 L85.1,285.2 L85.8,285.2 L86.5,284.7 L87.2,285.1 L87.9,285.2 L88.6,284.9 L89.3,284.9 L90.0,285.2 L90.7,284.7 L91.4,284.6 L92.1,284.9 L92.8,283.8 L93.5,284.1 L94.2,283.6 L94.9,283.7 L95.6,283.6 L96.3,283.6 L97.0,282.5 L97.7,282.7 L98.4,282.5 L99.1,282.9 L99.8,282.3 L100.5,282.3 L101.2,282.0 L101.9,281.9 L102.6,281.7 L103.3,281.7 L104.0,281.5 L104.7,282.0 L105.4,281.1 L106.1,281.2 L106.8,280.8 L107.5,281.0 L108.2,280.9 L108.9,280.9 L109.6,280.3 L110.3,280.8 L111.0,280.2 L111.7,280.5 L112.4,279.4 L113.1,278.7 L113.8,276.7 L114.5,276.1 L115.2,274.9 L115.9,273.2 L116.6,272.3 L117.3,272.0 L118.0,270.8 L118.7,270.3 L119.4,269.2 L120.1,269.2 L120.8,268.1 L121.5,267.8 L122.2,267.4 L122.9,267.0 L123.6,266.8 L124.3,266.6 L125.0,266.3 L125.7,267.1 L126.4,266.9 L127.1,267.5 L127.8,267.7 L128.5,268.5 L129.2,268.5 L129.9,269.1 L130.6,269.1 L131.3,269.6 L132.0,270.0 L132.7,270.5 L133.4,270.6 L134.1,271.3 L134.8,271.4 L135.5,272.5 L136.2,272.6 L136.9,272.9 L137.6,273.6 L138.3,274.3 L139.0,274.8 L139.7,275.5 L140.4,275.3 L141.1,275.7 L141.8,276.1 L142.5,276.6 L143.2,276.4 L143.9,277.0 L144.6,276.1 L145.3,276.9 L146.0,276.9 L146.7,277.2 L147.4,277.1 L148.1,277.2 L148.8,277.0 L149.5,277.1 L150.2,277.2 L150.9,277.3 L151.6,277.4 L152.3,277.3 L153.0,277.4 L153.7,277.5 L154.4,277.2 L155.1,277.3 L155.8,277.1 L156.5,277.0 L157.2,276.7 L157.9,276.8 L158.6,276.7 L159.3,276.7 L160.0,276.5 L160.7,276.3 L161.4,276.5 L162.1,276.2 L162.8,276.0 L163.5,276.3 L164.2,275.9 L164.9,276.2 L165.6,275.8 L166.3,276.3 L167.0,276.0 L167.7,276.6 L168.4,276.3 L169.1,276.3 L169.8,276.5 L170.5,276.7 L171.2,277.1 L171.9,276.8 L172.6,277.2 L173.3,277.5" fill="none" stroke="#2b8bc6" stroke-width="1.2" stroke-linejoin="round"/>
<path d="M33.3,372.4 L34.0,372.2 L34.7,372.5 L35.4,372.2 L36.1,372.5 L36.8,371.8 L37.5,372.0 L38.2,371.7 L38.9,372.0 L39.6,372.1 L40.3,371.9 L41.0,371.8 L41.7,371.3 L42.4,371.3 L43.1,371.1 L43.8,371.1 L44.5,370.8 L45.2,370.2 L45.9,369.7 L46.6,369.3 L47.3,369.1 L48.0,367.8 L48.7,366.8 L49.4,365.6 L50.1,364.3 L50.8,362.7 L51.5,361.3 L52.2,358.1 L52.9,355.1 L53.6,350.7 L54.3,348.3 L55.0,344.6 L55.7,341.6 L56.4,338.1 L57.1,335.9 L57.8,334.0 L58.5,332.7 L59.2,331.2 L59.9,330.8 L60.6,330.0 L61.3,329.5 L62.0,329.0 L62.7,329.4 L63.4,328.8 L64.1,329.0 L64.8,329.0 L65.5,329.8 L66.2,330.1 L66.9,331.7 L67.6,332.7 L68.3,333.7 L69.0,334.5 L69.7,335.7 L70.4,335.9 L71.1,337.3 L71.8,337.6 L72.5,338.5 L73.2,339.0 L73.9,339.8 L74.6,340.5 L75.3,341.0 L76.0,341.4 L76.7,342.3 L77.4,342.4 L78.1,343.2 L78.8,343.5 L79.5,344.6 L80.2,344.7 L80.9,345.3 L81.6,345.4 L82.3,346.3 L83.0,346.5 L83.7,347.1 L84.4,347.1 L85.1,347.8 L85.8,347.2 L86.5,347.4 L87.2,346.8 L87.9,346.7 L88.6,346.6 L89.3,346.9 L90.0,346.4 L90.7,346.3 L91.4,346.1 L92.1,346.0 L92.8,345.1 L93.5,345.6 L94.2,345.3 L94.9,345.4 L95.6,344.7 L96.3,345.1 L97.0,344.6 L97.7,344.7 L98.4,344.4 L99.1,344.4 L99.8,343.7 L100.5,344.2 L101.2,343.7 L101.9,343.6 L102.6,343.6 L103.3,343.5 L104.0,343.3 L104.7,343.8 L105.4,343.4 L106.1,343.7 L106.8,343.8 L107.5,344.1 L108.2,343.9 L108.9,343.9 L109.6,343.3 L110.3,343.4 L111.0,343.0 L111.7,342.4 L112.4,341.6 L113.1,340.9 L113.8,340.1 L114.5,339.6 L115.2,338.3 L115.9,337.2 L116.6,335.9 L117.3,335.3 L118.0,334.5 L118.7,333.6 L119.4,332.7 L120.1,332.5 L120.8,331.3 L121.5,331.8 L122.2,330.7 L122.9,330.8 L123.6,330.6 L124.3,330.7 L125.0,330.7 L125.7,331.6 L126.4,331.2 L127.1,331.4 L127.8,331.4 L128.5,332.3 L129.2,332.1 L129.9,332.4 L130.6,332.4 L131.3,333.2 L132.0,333.2 L132.7,333.7 L133.4,333.9 L134.1,334.0 L134.8,334.4 L135.5,335.1 L136.2,335.5 L136.9,335.8 L137.6,336.2 L138.3,336.8 L139.0,336.8 L139.7,337.7 L140.4,337.7 L141.1,338.1 L141.8,338.0 L142.5,338.7 L143.2,339.1 L143.9,339.2 L144.6,338.9 L145.3,339.6 L146.0,339.2 L146.7,339.5 L147.4,339.0 L148.1,339.5 L148.8,339.3 L149.5,339.2 L150.2,339.2 L150.9,339.4 L151.6,339.3 L152.3,339.4 L153.0,339.2 L153.7,339.5 L154.4,339.2 L155.1,339.1 L155.8,339.0 L156.5,339.1 L157.2,338.5 L157.9,338.6 L158.6,339.1 L159.3,338.8 L160.0,338.2 L160.7,338.5 L161.4,338.8 L162.1,338.7 L162.8,338.4 L163.5,338.4 L164.2,338.2 L164.9,338.6 L165.6,338.4 L166.3,338.6 L167.0,338.5 L167.7,338.9 L168.4,338.5 L169.1,339.0 L169.8,339.0 L170.5,339.3 L171.2,339.6 L171.9,339.6 L172.6,339.7 L173.3,339.9" fill="none" stroke="#1f8e8a" stroke-width="1.2" stroke-linejoin="round"/>
<path d="M217.3,251.5 L218.1,250.4 L218.9,251.7 L219.7,250.7 L220.5,252.0 L221.3,251.4 L222.1,252.3 L222.9,251.5 L223.7,251.8 L224.5,251.1 L225.3,252.0 L226.1,251.4 L226.9,251.8 L227.7,251.6 L228.5,251.7 L229.3,250.8 L230.1,251.3 L230.9,250.5 L231.7,251.5 L232.5,250.5 L233.3,251.3 L234.1,250.1 L234.9,251.5 L235.7,250.4 L236.5,250.6 L237.3,250.5 L238.1,250.2 L238.9,250.0 L239.7,249.7 L240.5,249.9 L241.3,250.1 L242.1,249.6 L242.9,249.5 L243.7,248.6 L244.5,249.6 L245.3,249.0 L246.1,249.0 L246.9,248.1 L247.7,247.8 L248.5,247.7 L249.3,247.1 L250.1,246.5 L250.9,246.1 L251.7,244.9 L252.5,244.5 L253.3,243.3 L254.1,242.4 L254.9,240.7 L255.7,240.6 L256.5,239.0 L257.3,238.7 L258.1,236.9 L258.9,236.0 L259.7,234.6 L260.5,233.7 L261.3,232.2 L262.1,231.8 L262.9,230.6 L263.7,229.7 L264.5,228.5 L265.3,227.8 L266.1,227.3 L266.9,226.6 L267.7,225.7 L268.5,226.0 L269.3,225.5 L270.1,225.4 L270.9,224.5 L271.7,225.3 L272.5,225.3 L273.3,226.1 L274.1,226.8 L274.9,228.0 L275.7,227.8 L276.5,228.3 L277.3,228.9 L278.1,229.2 L278.9,229.4 L279.7,230.5 L280.5,230.5 L281.3,231.7 L282.1,231.1 L282.9,232.0 L283.7,233.2 L284.5,234.2 L285.3,234.3 L286.1,235.7 L286.9,235.5 L287.7,236.5 L288.5,236.5 L289.3,237.9 L290.1,237.7 L290.9,239.2 L291.7,238.2 L292.5,239.3 L293.3,239.8 L294.1,239.6 L294.9,239.7 L295.7,240.3 L296.5,240.1 L297.3,240.8 L298.1,240.2 L298.9,240.2 L299.7,240.5 L300.5,240.5 L301.3,240.3 L302.1,241.2 L302.9,240.5 L303.7,241.2 L304.5,240.6 L305.3,241.0 L306.1,240.9 L306.9,241.4 L307.7,240.7 L308.5,241.2 L309.3,240.5 L310.1,240.8 L310.9,240.6 L311.7,241.2 L312.5,240.4 L313.3,240.9 L314.1,240.4 L314.9,241.1 L315.7,240.2 L316.5,240.9 L317.3,240.1 L318.1,240.0 L318.9,239.6 L319.7,239.7 L320.5,239.4 L321.3,239.3 L322.1,239.7 L322.9,239.5 L323.7,239.0 L324.5,238.9 L325.3,238.3 L326.1,238.9 L326.9,238.1 L327.7,238.5 L328.5,237.7 L329.3,238.4 L330.1,238.1 L330.9,237.9 L331.7,237.3 L332.5,237.5 L333.3,237.2 L334.1,237.6 L334.9,236.6 L335.7,236.8 L336.5,236.6 L337.3,237.1 L338.1,235.9 L338.9,236.2 L339.7,235.6 L340.5,236.0 L341.3,235.2 L342.1,235.8 L342.9,234.4 L343.7,234.9 L344.5,235.0 L345.3,234.4 L346.1,233.6 L346.9,233.8 L347.7,233.6 L348.5,234.1 L349.3,234.0 L350.1,233.8 L350.9,234.2 L351.7,233.8 L352.5,233.6 L353.3,234.3 L354.1,233.8 L354.9,234.2 L355.7,233.9 L356.5,234.2" fill="none" stroke="#686868" stroke-width="0.95" stroke-linejoin="round"/>
<path d="M217.3,310.2 L218.0,309.4 L218.7,309.7 L219.4,309.2 L220.1,310.3 L220.8,310.2 L221.5,310.1 L222.2,310.0 L222.9,310.3 L223.6,309.6 L224.3,310.6 L225.0,309.7 L225.7,310.4 L226.4,310.5 L227.1,310.1 L227.8,309.9 L228.5,310.0 L229.2,309.7 L229.9,309.6 L230.6,309.5 L231.3,310.3 L232.0,309.9 L232.7,309.9 L233.4,309.9 L234.1,310.0 L234.8,309.6 L235.5,310.1 L236.2,309.3 L236.9,309.9 L237.6,309.5 L238.3,310.0 L239.0,309.5 L239.7,309.4 L240.4,309.3 L241.1,309.4 L241.8,309.4 L242.5,309.4 L243.2,309.3 L243.9,308.7 L244.6,309.1 L245.3,308.6 L246.0,308.4 L246.7,308.2 L247.4,307.3 L248.1,307.4 L248.8,306.3 L249.5,306.7 L250.2,306.2 L250.9,305.8 L251.6,305.0 L252.3,304.3 L253.0,303.6 L253.7,302.8 L254.4,301.8 L255.1,300.7 L255.8,299.7 L256.5,298.7 L257.2,296.6 L257.9,295.9 L258.6,294.4 L259.3,292.6 L260.0,290.5 L260.7,289.5 L261.4,287.2 L262.1,285.7 L262.8,283.9 L263.5,282.4 L264.2,280.4 L264.9,278.8 L265.6,277.4 L266.3,276.4 L267.0,275.0 L267.7,274.5 L268.4,273.6 L269.1,272.8 L269.8,272.3 L270.5,272.5 L271.2,271.8 L271.9,272.8 L272.6,272.5 L273.3,273.7 L274.0,274.3 L274.7,275.2 L275.4,275.6 L276.1,277.1 L276.8,277.3 L277.5,278.7 L278.2,279.8 L278.9,281.4 L279.6,282.0 L280.3,283.0 L281.0,283.3 L281.7,284.8 L282.4,284.9 L283.1,286.5 L283.8,286.5 L284.5,287.7 L285.2,287.8 L285.9,288.9 L286.6,289.2 L287.3,289.9 L288.0,290.1 L288.7,291.1 L289.4,291.3 L290.1,292.1 L290.8,292.1 L291.5,292.9 L292.2,292.7 L292.9,293.5 L293.6,292.9 L294.3,293.9 L295.0,293.2 L295.7,293.7 L296.4,294.2 L297.1,294.1 L297.8,294.0 L298.5,294.8 L299.2,294.4 L299.9,295.0 L300.6,294.6 L301.3,295.3 L302.0,295.1 L302.7,295.2 L303.4,295.4 L304.1,295.3 L304.8,295.3 L305.5,295.5 L306.2,295.5 L306.9,295.6 L307.6,295.4 L308.3,295.8 L309.0,295.9 L309.7,295.6 L310.4,295.3 L311.1,295.7 L311.8,295.7 L312.5,295.6 L313.2,295.6 L313.9,295.1 L314.6,295.3 L315.3,295.7 L316.0,295.1 L316.7,295.6 L317.4,295.4 L318.1,295.1 L318.8,295.0 L319.5,294.9 L320.2,294.8 L320.9,295.4 L321.6,294.8 L322.3,294.4 L323.0,294.6 L323.7,294.9 L324.4,294.4 L325.1,294.7 L325.8,294.3 L326.5,295.1 L327.2,294.0 L327.9,294.4 L328.6,294.2 L329.3,293.9 L330.0,294.4 L330.7,294.6 L331.4,293.9 L332.1,294.3 L332.8,293.9 L333.5,294.1 L334.2,293.5 L334.9,294.1 L335.6,293.4 L336.3,293.9 L337.0,293.3 L337.7,294.0 L338.4,293.0 L339.1,293.5 L339.8,292.9 L340.5,293.3 L341.2,293.0 L341.9,292.8 L342.6,292.5 L343.3,292.5 L344.0,292.5 L344.7,293.0 L345.4,292.6 L346.1,292.5 L346.8,291.9 L347.5,292.3 L348.2,291.4 L348.9,291.8 L349.6,292.1 L350.3,292.0 L351.0,291.6 L351.7,291.6 L352.4,291.8 L353.1,291.7 L353.8,291.0 L354.5,291.2 L355.2,290.7 L355.9,291.5 L356.6,291.1" fill="none" stroke="#2b8bc6" stroke-width="1.2" stroke-linejoin="round"/>
<path d="M217.3,371.3 L218.0,371.4 L218.7,372.1 L219.4,371.6 L220.1,372.4 L220.8,372.0 L221.5,371.9 L222.2,372.2 L222.9,372.2 L223.6,372.4 L224.3,372.4 L225.0,372.1 L225.7,372.3 L226.4,372.0 L227.1,372.5 L227.8,372.3 L228.5,372.3 L229.2,372.5 L229.9,372.6 L230.6,372.0 L231.3,371.8 L232.0,371.2 L232.7,372.3 L233.4,371.9 L234.1,372.4 L234.8,371.6 L235.5,372.0 L236.2,371.3 L236.9,371.7 L237.6,371.0 L238.3,371.7 L239.0,370.7 L239.7,371.1 L240.4,370.7 L241.1,370.8 L241.8,370.0 L242.5,370.8 L243.2,370.3 L243.9,370.2 L244.6,369.4 L245.3,369.3 L246.0,368.9 L246.7,369.0 L247.4,368.7 L248.1,368.5 L248.8,368.3 L249.5,367.9 L250.2,367.4 L250.9,367.3 L251.6,365.8 L252.3,365.8 L253.0,364.3 L253.7,363.2 L254.4,362.4 L255.1,361.6 L255.8,360.0 L256.5,359.0 L257.2,356.7 L257.9,355.3 L258.6,353.2 L259.3,352.2 L260.0,350.0 L260.7,348.7 L261.4,346.7 L262.1,344.7 L262.8,342.9 L263.5,341.7 L264.2,340.0 L264.9,338.7 L265.6,338.1 L266.3,338.1 L267.0,337.3 L267.7,337.4 L268.4,336.9 L269.1,337.6 L269.8,337.1 L270.5,337.1 L271.2,336.9 L271.9,338.4 L272.6,338.8 L273.3,340.6 L274.0,341.8 L274.7,342.8 L275.4,343.8 L276.1,345.7 L276.8,346.3 L277.5,347.1 L278.2,347.3 L278.9,348.1 L279.6,348.0 L280.3,349.5 L281.0,349.6 L281.7,350.2 L282.4,350.7 L283.1,351.4 L283.8,351.9 L284.5,353.0 L285.2,353.1 L285.9,354.2 L286.6,354.4 L287.3,355.0 L288.0,355.4 L288.7,356.4 L289.4,356.3 L290.1,356.9 L290.8,357.3 L291.5,357.4 L292.2,357.5 L292.9,357.7 L293.6,358.1 L294.3,358.7 L295.0,358.2 L295.7,359.1 L296.4,358.9 L297.1,358.9 L297.8,358.6 L298.5,358.9 L299.2,358.7 L299.9,359.2 L300.6,358.9 L301.3,359.2 L302.0,358.7 L302.7,359.3 L303.4,358.7 L304.1,359.3 L304.8,359.1 L305.5,359.4 L306.2,359.3 L306.9,359.2 L307.6,359.0 L308.3,359.0 L309.0,359.3 L309.7,359.4 L310.4,359.0 L311.1,359.0 L311.8,358.7 L312.5,359.4 L313.2,358.6 L313.9,359.3 L314.6,359.2 L315.3,358.5 L316.0,358.6 L316.7,358.8 L317.4,358.6 L318.1,358.5 L318.8,358.5 L319.5,358.6 L320.2,358.2 L320.9,358.8 L321.6,358.3 L322.3,359.1 L323.0,358.3 L323.7,358.9 L324.4,358.3 L325.1,358.6 L325.8,358.1 L326.5,358.2 L327.2,358.0 L327.9,358.9 L328.6,358.4 L329.3,358.4 L330.0,358.6 L330.7,358.8 L331.4,358.4 L332.1,358.5 L332.8,358.2 L333.5,358.3 L334.2,358.7 L334.9,358.4 L335.6,358.3 L336.3,358.5 L337.0,358.2 L337.7,358.3 L338.4,358.4 L339.1,358.3 L339.8,358.2 L340.5,358.5 L341.2,358.5 L341.9,358.5 L342.6,358.2 L343.3,358.6 L344.0,358.0 L344.7,358.4 L345.4,358.4 L346.1,358.4 L346.8,358.0 L347.5,358.6 L348.2,358.0 L348.9,358.0 L349.6,357.4 L350.3,358.1 L351.0,357.8 L351.7,358.0 L352.4,358.2 L353.1,358.2 L353.8,357.9 L354.5,357.5 L355.2,357.6 L355.9,357.8 L356.6,356.9" fill="none" stroke="#1f8e8a" stroke-width="1.2" stroke-linejoin="round"/>
<path d="M402.3,252.3 L403.1,252.3 L403.9,252.4 L404.7,252.3 L405.5,252.6 L406.3,251.8 L407.1,252.3 L407.9,252.1 L408.7,252.0 L409.5,251.9 L410.3,252.4 L411.1,252.1 L411.9,252.4 L412.7,252.0 L413.5,252.3 L414.3,252.1 L415.1,252.1 L415.9,251.8 L416.7,251.8 L417.5,251.8 L418.3,251.7 L419.1,251.6 L419.9,251.7 L420.7,251.5 L421.5,251.7 L422.3,251.2 L423.1,251.8 L423.9,250.8 L424.7,251.4 L425.5,250.7 L426.3,251.2 L427.1,250.8 L427.9,250.9 L428.7,250.6 L429.5,250.2 L430.3,250.0 L431.1,250.1 L431.9,249.5 L432.7,249.7 L433.5,249.0 L434.3,248.8 L435.1,248.1 L435.9,247.6 L436.7,246.8 L437.5,246.3 L438.3,245.4 L439.1,244.7 L439.9,243.7 L440.7,242.9 L441.5,241.7 L442.3,240.8 L443.1,239.6 L443.9,238.5 L444.7,236.6 L445.5,235.4 L446.3,233.5 L447.1,231.6 L447.9,229.1 L448.7,227.8 L449.5,225.9 L450.3,225.1 L451.1,223.6 L451.9,222.8 L452.7,221.4 L453.5,219.3 L454.3,217.4 L455.1,216.4 L455.9,214.9 L456.7,214.7 L457.5,213.8 L458.3,213.8 L459.1,213.9 L459.9,214.8 L460.7,215.9 L461.5,217.1 L462.3,217.7 L463.1,219.4 L463.9,219.9 L464.7,220.8 L465.5,221.2 L466.3,223.0 L467.1,224.5 L467.9,226.2 L468.7,228.1 L469.5,229.7 L470.3,230.7 L471.1,231.8 L471.9,233.1 L472.7,234.3 L473.5,234.9 L474.3,236.1 L475.1,237.0 L475.9,237.8 L476.7,238.8 L477.5,239.4 L478.3,240.3 L479.1,241.4 L479.9,241.6 L480.7,242.6 L481.5,242.9 L482.3,243.6 L483.1,243.9 L483.9,244.5 L484.7,244.7 L485.5,245.6 L486.3,245.8 L487.1,246.2 L487.9,246.2 L488.7,246.9 L489.5,246.6 L490.3,246.9 L491.1,246.5 L491.9,247.1 L492.7,247.0 L493.5,247.2 L494.3,246.9 L495.1,247.3 L495.9,247.1 L496.7,247.3 L497.5,247.0 L498.3,247.3 L499.1,247.3 L499.9,247.2 L500.7,247.3 L501.5,247.5 L502.3,246.9 L503.1,247.2 L503.9,247.1 L504.7,247.4 L505.5,247.3 L506.3,247.8 L507.1,247.5 L507.9,247.8 L508.7,247.1 L509.5,247.2 L510.3,247.2 L511.1,247.3 L511.9,247.2 L512.7,247.5 L513.5,247.4 L514.3,247.4 L515.1,247.3 L515.9,247.4 L516.7,247.4 L517.5,247.6 L518.3,247.6 L519.1,247.4 L519.9,247.1 L520.7,247.7 L521.5,247.4 L522.3,247.8 L523.1,247.2 L523.9,247.4 L524.7,247.1 L525.5,247.4 L526.3,247.3 L527.1,247.4 L527.9,246.6 L528.7,247.6 L529.5,247.2 L530.3,247.6 L531.1,247.3 L531.9,247.9 L532.7,247.4 L533.5,247.5 L534.3,247.4 L535.1,247.6 L535.9,247.4 L536.7,247.4 L537.5,247.3 L538.3,247.4 L539.1,247.3 L539.9,247.6 L540.7,247.4 L541.5,247.3" fill="none" stroke="#686868" stroke-width="0.95" stroke-linejoin="round"/>
<path d="M402.3,311.8 L403.0,311.6 L403.7,311.6 L404.4,311.4 L405.1,311.4 L405.8,311.5 L406.5,311.5 L407.2,311.3 L407.9,311.6 L408.6,311.6 L409.3,311.4 L410.0,311.7 L410.7,311.4 L411.4,311.8 L412.1,311.7 L412.8,311.5 L413.5,311.8 L414.2,311.5 L414.9,311.6 L415.6,311.5 L416.3,311.8 L417.0,311.4 L417.7,311.3 L418.4,311.2 L419.1,311.3 L419.8,311.0 L420.5,310.9 L421.2,311.3 L421.9,310.8 L422.6,310.7 L423.3,310.7 L424.0,310.8 L424.7,310.9 L425.4,310.5 L426.1,310.6 L426.8,310.4 L427.5,310.3 L428.2,310.1 L428.9,309.9 L429.6,309.8 L430.3,309.7 L431.0,308.9 L431.7,309.0 L432.4,308.6 L433.1,308.4 L433.8,307.8 L434.5,307.4 L435.2,306.9 L435.9,306.8 L436.6,306.0 L437.3,305.5 L438.0,305.0 L438.7,304.2 L439.4,303.4 L440.1,302.7 L440.8,301.8 L441.5,301.0 L442.2,299.4 L442.9,298.2 L443.6,296.5 L444.3,295.1 L445.0,293.2 L445.7,291.7 L446.4,289.7 L447.1,287.7 L447.8,285.3 L448.5,283.1 L449.2,280.8 L449.9,278.8 L450.6,277.1 L451.3,275.1 L452.0,273.5 L452.7,271.7 L453.4,270.6 L454.1,269.0 L454.8,268.1 L455.5,267.3 L456.2,266.3 L456.9,265.9 L457.6,265.4 L458.3,266.1 L459.0,266.3 L459.7,266.8 L460.4,267.9 L461.1,268.9 L461.8,269.5 L462.5,271.1 L463.2,272.5 L463.9,274.5 L464.6,276.2 L465.3,278.1 L466.0,279.8 L466.7,281.6 L467.4,282.7 L468.1,284.0 L468.8,285.3 L469.5,286.6 L470.2,287.9 L470.9,289.5 L471.6,290.2 L472.3,291.7 L473.0,293.0 L473.7,294.2 L474.4,295.1 L475.1,296.3 L475.8,296.9 L476.5,297.8 L477.2,298.7 L477.9,299.5 L478.6,299.9 L479.3,300.6 L480.0,301.2 L480.7,302.0 L481.4,302.0 L482.1,302.9 L482.8,303.1 L483.5,303.5 L484.2,303.4 L484.9,304.3 L485.6,304.4 L486.3,304.9 L487.0,305.2 L487.7,305.4 L488.4,305.4 L489.1,305.6 L489.8,305.7 L490.5,306.0 L491.2,306.0 L491.9,306.1 L492.6,305.8 L493.3,306.1 L494.0,306.1 L494.7,306.2 L495.4,305.9 L496.1,306.6 L496.8,306.2 L497.5,306.6 L498.2,306.4 L498.9,306.5 L499.6,306.4 L500.3,306.6 L501.0,306.8 L501.7,306.7 L502.4,306.8 L503.1,306.8 L503.8,306.5 L504.5,306.9 L505.2,306.8 L505.9,306.8 L506.6,306.5 L507.3,306.8 L508.0,306.6 L508.7,306.8 L509.4,306.6 L510.1,306.8 L510.8,306.8 L511.5,306.8 L512.2,306.5 L512.9,306.9 L513.6,306.7 L514.3,306.9 L515.0,306.3 L515.7,307.1 L516.4,306.5 L517.1,307.0 L517.8,306.7 L518.5,306.9 L519.2,306.7 L519.9,306.5 L520.6,306.7 L521.3,306.8 L522.0,306.6 L522.7,306.6 L523.4,306.5 L524.1,306.6 L524.8,306.5 L525.5,306.8 L526.2,306.9 L526.9,306.8 L527.6,306.7 L528.3,306.7 L529.0,306.7 L529.7,306.7 L530.4,306.7 L531.1,306.9 L531.8,306.6 L532.5,306.9 L533.2,306.8 L533.9,306.8 L534.6,306.4 L535.3,306.9 L536.0,306.8 L536.7,306.5 L537.4,306.7 L538.1,306.6 L538.8,306.7 L539.5,306.7 L540.2,306.7 L540.9,306.7 L541.6,306.4" fill="none" stroke="#2b8bc6" stroke-width="1.2" stroke-linejoin="round"/>
<path d="M402.3,372.2 L403.0,371.9 L403.7,372.4 L404.4,372.1 L405.1,372.5 L405.8,372.2 L406.5,372.3 L407.2,372.2 L407.9,372.5 L408.6,372.5 L409.3,372.1 L410.0,372.2 L410.7,372.3 L411.4,372.1 L412.1,372.4 L412.8,372.2 L413.5,372.5 L414.2,371.9 L414.9,372.2 L415.6,372.1 L416.3,372.2 L417.0,372.1 L417.7,372.1 L418.4,371.9 L419.1,372.1 L419.8,372.0 L420.5,372.0 L421.2,372.0 L421.9,372.0 L422.6,372.0 L423.3,372.0 L424.0,371.7 L424.7,371.8 L425.4,371.8 L426.1,371.9 L426.8,371.5 L427.5,371.7 L428.2,371.6 L428.9,371.6 L429.6,371.2 L430.3,371.4 L431.0,371.0 L431.7,371.2 L432.4,370.9 L433.1,370.7 L433.8,370.7 L434.5,370.3 L435.2,369.9 L435.9,369.9 L436.6,369.5 L437.3,369.4 L438.0,368.4 L438.7,368.1 L439.4,367.1 L440.1,367.0 L440.8,365.7 L441.5,364.7 L442.2,363.6 L442.9,362.7 L443.6,361.0 L444.3,359.8 L445.0,357.6 L445.7,355.9 L446.4,353.8 L447.1,352.1 L447.8,350.1 L448.5,347.9 L449.2,345.8 L449.9,343.4 L450.6,341.3 L451.3,339.4 L452.0,337.7 L452.7,336.5 L453.4,334.8 L454.1,333.7 L454.8,332.4 L455.5,331.6 L456.2,331.1 L456.9,331.2 L457.6,330.8 L458.3,331.0 L459.0,330.9 L459.7,331.8 L460.4,332.1 L461.1,333.0 L461.8,333.7 L462.5,334.9 L463.2,336.1 L463.9,338.3 L464.6,339.7 L465.3,341.6 L466.0,343.2 L466.7,344.7 L467.4,346.0 L468.1,347.8 L468.8,348.5 L469.5,350.2 L470.2,351.5 L470.9,352.7 L471.6,353.4 L472.3,354.8 L473.0,355.7 L473.7,356.7 L474.4,357.5 L475.1,358.5 L475.8,359.0 L476.5,360.0 L477.2,360.4 L477.9,361.1 L478.6,361.7 L479.3,362.3 L480.0,362.6 L480.7,363.1 L481.4,363.4 L482.1,364.4 L482.8,364.5 L483.5,364.8 L484.2,364.6 L484.9,365.4 L485.6,365.6 L486.3,365.9 L487.0,366.2 L487.7,366.4 L488.4,366.2 L489.1,366.8 L489.8,366.4 L490.5,366.9 L491.2,366.8 L491.9,366.9 L492.6,367.0 L493.3,367.2 L494.0,367.3 L494.7,367.4 L495.4,367.0 L496.1,367.4 L496.8,367.3 L497.5,367.5 L498.2,367.2 L498.9,367.8 L499.6,367.5 L500.3,367.8 L501.0,367.6 L501.7,367.9 L502.4,367.7 L503.1,368.0 L503.8,367.6 L504.5,367.7 L505.2,367.8 L505.9,367.6 L506.6,367.8 L507.3,367.9 L508.0,367.6 L508.7,368.0 L509.4,367.5 L510.1,367.9 L510.8,367.6 L511.5,367.9 L512.2,367.7 L512.9,367.8 L513.6,367.5 L514.3,368.0 L515.0,367.7 L515.7,367.9 L516.4,367.8 L517.1,368.1 L517.8,367.8 L518.5,367.8 L519.2,368.1 L519.9,368.0 L520.6,367.8 L521.3,368.0 L522.0,367.9 L522.7,367.5 L523.4,367.6 L524.1,367.9 L524.8,367.8 L525.5,367.7 L526.2,367.7 L526.9,367.6 L527.6,367.6 L528.3,367.5 L529.0,367.6 L529.7,368.1 L530.4,367.5 L531.1,367.8 L531.8,367.5 L532.5,367.8 L533.2,367.8 L533.9,367.7 L534.6,367.5 L535.3,367.6 L536.0,367.2 L536.7,367.5 L537.4,367.5 L538.1,367.4 L538.8,367.3 L539.5,367.4 L540.2,367.4 L540.9,367.5 L541.6,367.4" fill="none" stroke="#1f8e8a" stroke-width="1.2" stroke-linejoin="round"/>
<line x1="29.25" y1="5.5" x2="32.45" y2="5.5" class="tk"/>
<text x="27.45" y="7.3" class="tl" text-anchor="end" textLength="16.65" lengthAdjust="spacingAndGlyphs">17000</text>
<line x1="29.25" y1="17.8" x2="32.45" y2="17.8" class="tk"/>
<text x="27.45" y="19.6" class="tl" text-anchor="end" textLength="16.65" lengthAdjust="spacingAndGlyphs">16000</text>
<line x1="29.25" y1="30.1" x2="32.45" y2="30.1" class="tk"/>
<text x="27.45" y="31.9" class="tl" text-anchor="end" textLength="16.65" lengthAdjust="spacingAndGlyphs">15000</text>
<line x1="29.25" y1="42.4" x2="32.45" y2="42.4" class="tk"/>
<text x="27.45" y="44.2" class="tl" text-anchor="end" textLength="16.65" lengthAdjust="spacingAndGlyphs">14000</text>
<line x1="29.25" y1="54.7" x2="32.45" y2="54.7" class="tk"/>
<text x="27.45" y="56.5" class="tl" text-anchor="end" textLength="16.65" lengthAdjust="spacingAndGlyphs">13000</text>
<line x1="30.65" y1="11.65" x2="32.45" y2="11.65" class="tk"/>
<line x1="30.65" y1="23.95" x2="32.45" y2="23.95" class="tk"/>
<line x1="30.65" y1="36.25" x2="32.45" y2="36.25" class="tk"/>
<line x1="30.65" y1="48.55" x2="32.45" y2="48.55" class="tk"/>
<line x1="30.65" y1="60.85" x2="32.45" y2="60.85" class="tk"/>
<line x1="29.25" y1="62" x2="32.45" y2="62" class="tk"/>
<text x="27.45" y="63.8" class="tl" text-anchor="end" textLength="16.65" lengthAdjust="spacingAndGlyphs">17000</text>
<line x1="29.25" y1="80.77" x2="32.45" y2="80.77" class="tk"/>
<text x="27.45" y="82.57" class="tl" text-anchor="end" textLength="16.65" lengthAdjust="spacingAndGlyphs">16000</text>
<line x1="29.25" y1="99.54" x2="32.45" y2="99.54" class="tk"/>
<text x="27.45" y="101.34" class="tl" text-anchor="end" textLength="16.65" lengthAdjust="spacingAndGlyphs">15000</text>
<line x1="29.25" y1="118.31" x2="32.45" y2="118.31" class="tk"/>
<line x1="30.65" y1="71.39" x2="32.45" y2="71.39" class="tk"/>
<line x1="30.65" y1="90.16" x2="32.45" y2="90.16" class="tk"/>
<line x1="30.65" y1="108.92" x2="32.45" y2="108.92" class="tk"/>
<line x1="29.25" y1="118.5" x2="32.45" y2="118.5" class="tk"/>
<text x="27.45" y="120.3" class="tl" text-anchor="end" textLength="16.65" lengthAdjust="spacingAndGlyphs">14000</text>
<line x1="29.25" y1="134.3" x2="32.45" y2="134.3" class="tk"/>
<text x="27.45" y="136.1" class="tl" text-anchor="end" textLength="16.65" lengthAdjust="spacingAndGlyphs">13500</text>
<line x1="29.25" y1="150.1" x2="32.45" y2="150.1" class="tk"/>
<text x="27.45" y="151.9" class="tl" text-anchor="end" textLength="16.65" lengthAdjust="spacingAndGlyphs">13000</text>
<line x1="29.25" y1="165.9" x2="32.45" y2="165.9" class="tk"/>
<text x="27.45" y="167.7" class="tl" text-anchor="end" textLength="16.65" lengthAdjust="spacingAndGlyphs">12500</text>
<line x1="30.65" y1="126.4" x2="32.45" y2="126.4" class="tk"/>
<line x1="30.65" y1="142.2" x2="32.45" y2="142.2" class="tk"/>
<line x1="30.65" y1="158" x2="32.45" y2="158" class="tk"/>
<line x1="30.65" y1="173.8" x2="32.45" y2="173.8" class="tk"/>
<line x1="32.45" y1="175.3" x2="32.45" y2="177.9" class="tk"/>
<line x1="45.56" y1="175.3" x2="45.56" y2="176.9" class="tk"/>
<line x1="58.66" y1="175.3" x2="58.66" y2="177.9" class="tk"/>
<line x1="71.77" y1="175.3" x2="71.77" y2="176.9" class="tk"/>
<line x1="84.87" y1="175.3" x2="84.87" y2="177.9" class="tk"/>
<line x1="97.98" y1="175.3" x2="97.98" y2="176.9" class="tk"/>
<line x1="111.08" y1="175.3" x2="111.08" y2="177.9" class="tk"/>
<line x1="124.19" y1="175.3" x2="124.19" y2="176.9" class="tk"/>
<line x1="137.29" y1="175.3" x2="137.29" y2="177.9" class="tk"/>
<line x1="150.39" y1="175.3" x2="150.39" y2="176.9" class="tk"/>
<line x1="163.5" y1="175.3" x2="163.5" y2="177.9" class="tk"/>
<text x="32.45" y="183.1" class="tl" text-anchor="middle" textLength="10.35" lengthAdjust="spacingAndGlyphs">925</text>
<text x="58.66" y="183.1" class="tl" text-anchor="middle" textLength="10.35" lengthAdjust="spacingAndGlyphs">930</text>
<text x="84.87" y="183.1" class="tl" text-anchor="middle" textLength="10.35" lengthAdjust="spacingAndGlyphs">935</text>
<text x="111.08" y="183.1" class="tl" text-anchor="middle" textLength="10.35" lengthAdjust="spacingAndGlyphs">940</text>
<text x="137.29" y="183.1" class="tl" text-anchor="middle" textLength="10.35" lengthAdjust="spacingAndGlyphs">945</text>
<text x="163.5" y="183.1" class="tl" text-anchor="middle" textLength="10.35" lengthAdjust="spacingAndGlyphs">950</text>
<rect x="32.45" y="5.6" width="141.95" height="169.7" class="fr"/>
<line x1="32.45" y1="62.3" x2="174.4" y2="62.3" class="dv"/>
<line x1="32.45" y1="118.9" x2="174.4" y2="118.9" class="dv"/>
<text x="67.6" y="193.3" class="xl" textLength="61.5" lengthAdjust="spacingAndGlyphs">Binding Energy (eV)</text>
<text transform="translate(5.85,106.45) rotate(-90)" class="yl" style="font-size:5.0px" textLength="30.3" lengthAdjust="spacingAndGlyphs">Intensity (a.u.)</text>
<line x1="213.9" y1="6.4" x2="217.1" y2="6.4" class="tk"/>
<text x="212.1" y="8.2" class="tl" text-anchor="end" textLength="13.32" lengthAdjust="spacingAndGlyphs">4500</text>
<line x1="213.9" y1="20.5" x2="217.1" y2="20.5" class="tk"/>
<text x="212.1" y="22.3" class="tl" text-anchor="end" textLength="13.32" lengthAdjust="spacingAndGlyphs">4000</text>
<line x1="213.9" y1="34.6" x2="217.1" y2="34.6" class="tk"/>
<text x="212.1" y="36.4" class="tl" text-anchor="end" textLength="13.32" lengthAdjust="spacingAndGlyphs">3500</text>
<line x1="213.9" y1="48.7" x2="217.1" y2="48.7" class="tk"/>
<text x="212.1" y="50.5" class="tl" text-anchor="end" textLength="13.32" lengthAdjust="spacingAndGlyphs">3000</text>
<line x1="213.9" y1="62.8" x2="217.1" y2="62.8" class="tk"/>
<text x="212.1" y="64.6" class="tl" text-anchor="end" textLength="13.32" lengthAdjust="spacingAndGlyphs">2500</text>
<line x1="215.3" y1="13.45" x2="217.1" y2="13.45" class="tk"/>
<line x1="215.3" y1="27.55" x2="217.1" y2="27.55" class="tk"/>
<line x1="215.3" y1="41.65" x2="217.1" y2="41.65" class="tk"/>
<line x1="215.3" y1="55.75" x2="217.1" y2="55.75" class="tk"/>
<line x1="213.9" y1="75" x2="217.1" y2="75" class="tk"/>
<text x="212.1" y="76.8" class="tl" text-anchor="end" textLength="13.32" lengthAdjust="spacingAndGlyphs">3500</text>
<line x1="213.9" y1="95.15" x2="217.1" y2="95.15" class="tk"/>
<text x="212.1" y="96.95" class="tl" text-anchor="end" textLength="13.32" lengthAdjust="spacingAndGlyphs">3000</text>
<line x1="213.9" y1="115.3" x2="217.1" y2="115.3" class="tk"/>
<text x="212.1" y="117.1" class="tl" text-anchor="end" textLength="13.32" lengthAdjust="spacingAndGlyphs">2500</text>
<line x1="215.3" y1="64.92" x2="217.1" y2="64.92" class="tk"/>
<line x1="215.3" y1="85.08" x2="217.1" y2="85.08" class="tk"/>
<line x1="215.3" y1="105.22" x2="217.1" y2="105.22" class="tk"/>
<line x1="213.9" y1="130.3" x2="217.1" y2="130.3" class="tk"/>
<text x="212.1" y="132.1" class="tl" text-anchor="end" textLength="13.32" lengthAdjust="spacingAndGlyphs">2750</text>
<line x1="213.9" y1="147.5" x2="217.1" y2="147.5" class="tk"/>
<text x="212.1" y="149.3" class="tl" text-anchor="end" textLength="13.32" lengthAdjust="spacingAndGlyphs">2500</text>
<line x1="213.9" y1="164.7" x2="217.1" y2="164.7" class="tk"/>
<text x="212.1" y="166.5" class="tl" text-anchor="end" textLength="13.32" lengthAdjust="spacingAndGlyphs">2250</text>
<line x1="215.3" y1="121.7" x2="217.1" y2="121.7" class="tk"/>
<line x1="215.3" y1="138.9" x2="217.1" y2="138.9" class="tk"/>
<line x1="215.3" y1="156.1" x2="217.1" y2="156.1" class="tk"/>
<line x1="215.3" y1="173.3" x2="217.1" y2="173.3" class="tk"/>
<line x1="217.1" y1="176.2" x2="217.1" y2="178.8" class="tk"/>
<line x1="228.82" y1="176.2" x2="228.82" y2="177.8" class="tk"/>
<line x1="240.55" y1="176.2" x2="240.55" y2="178.8" class="tk"/>
<line x1="252.28" y1="176.2" x2="252.28" y2="177.8" class="tk"/>
<line x1="264" y1="176.2" x2="264" y2="178.8" class="tk"/>
<line x1="275.73" y1="176.2" x2="275.73" y2="177.8" class="tk"/>
<line x1="287.45" y1="176.2" x2="287.45" y2="178.8" class="tk"/>
<line x1="299.18" y1="176.2" x2="299.18" y2="177.8" class="tk"/>
<line x1="310.9" y1="176.2" x2="310.9" y2="178.8" class="tk"/>
<line x1="322.62" y1="176.2" x2="322.62" y2="177.8" class="tk"/>
<line x1="334.35" y1="176.2" x2="334.35" y2="178.8" class="tk"/>
<line x1="346.08" y1="176.2" x2="346.08" y2="177.8" class="tk"/>
<line x1="357.8" y1="176.2" x2="357.8" y2="178.8" class="tk"/>
<text x="217.1" y="184" class="tl" text-anchor="middle" textLength="10.35" lengthAdjust="spacingAndGlyphs">930</text>
<text x="240.55" y="184" class="tl" text-anchor="middle" textLength="10.35" lengthAdjust="spacingAndGlyphs">925</text>
<text x="264" y="184" class="tl" text-anchor="middle" textLength="10.35" lengthAdjust="spacingAndGlyphs">920</text>
<text x="287.45" y="184" class="tl" text-anchor="middle" textLength="10.35" lengthAdjust="spacingAndGlyphs">915</text>
<text x="310.9" y="184" class="tl" text-anchor="middle" textLength="10.35" lengthAdjust="spacingAndGlyphs">910</text>
<text x="334.35" y="184" class="tl" text-anchor="middle" textLength="10.35" lengthAdjust="spacingAndGlyphs">905</text>
<text x="357.8" y="184" class="tl" text-anchor="middle" textLength="10.35" lengthAdjust="spacingAndGlyphs">900</text>
<rect x="217.1" y="6.3" width="140.7" height="169.9" class="fr"/>
<line x1="217.1" y1="62.8" x2="357.8" y2="62.8" class="dv"/>
<line x1="217.1" y1="119.3" x2="357.8" y2="119.3" class="dv"/>
<text x="252.7" y="194" class="xl" textLength="59.1" lengthAdjust="spacingAndGlyphs">Kinetic Energy (eV)</text>
<text transform="translate(191.25,106.45) rotate(-90)" class="yl" style="font-size:5.0px" textLength="30.3" lengthAdjust="spacingAndGlyphs">Intensity (a.u.)</text>
<line x1="398.5" y1="7.6" x2="401.7" y2="7.6" class="tk"/>
<text x="396.7" y="9.4" class="tl" text-anchor="end" textLength="16.65" lengthAdjust="spacingAndGlyphs">10750</text>
<line x1="398.5" y1="20.53" x2="401.7" y2="20.53" class="tk"/>
<text x="396.7" y="22.33" class="tl" text-anchor="end" textLength="16.65" lengthAdjust="spacingAndGlyphs">10500</text>
<line x1="398.5" y1="33.46" x2="401.7" y2="33.46" class="tk"/>
<text x="396.7" y="35.26" class="tl" text-anchor="end" textLength="16.65" lengthAdjust="spacingAndGlyphs">10250</text>
<line x1="398.5" y1="46.39" x2="401.7" y2="46.39" class="tk"/>
<text x="396.7" y="48.19" class="tl" text-anchor="end" textLength="16.65" lengthAdjust="spacingAndGlyphs">10000</text>
<line x1="398.5" y1="59.32" x2="401.7" y2="59.32" class="tk"/>
<text x="396.7" y="61.12" class="tl" text-anchor="end" textLength="13.32" lengthAdjust="spacingAndGlyphs">9750</text>
<line x1="399.9" y1="14.06" x2="401.7" y2="14.06" class="tk"/>
<line x1="399.9" y1="26.99" x2="401.7" y2="26.99" class="tk"/>
<line x1="399.9" y1="39.93" x2="401.7" y2="39.93" class="tk"/>
<line x1="399.9" y1="52.85" x2="401.7" y2="52.85" class="tk"/>
<line x1="398.5" y1="62.2" x2="401.7" y2="62.2" class="tk"/>
<text x="396.7" y="64" class="tl" text-anchor="end" textLength="16.65" lengthAdjust="spacingAndGlyphs">12250</text>
<line x1="398.5" y1="74.9" x2="401.7" y2="74.9" class="tk"/>
<text x="396.7" y="76.7" class="tl" text-anchor="end" textLength="16.65" lengthAdjust="spacingAndGlyphs">12000</text>
<line x1="398.5" y1="87.6" x2="401.7" y2="87.6" class="tk"/>
<text x="396.7" y="89.4" class="tl" text-anchor="end" textLength="16.65" lengthAdjust="spacingAndGlyphs">11750</text>
<line x1="398.5" y1="100.3" x2="401.7" y2="100.3" class="tk"/>
<text x="396.7" y="102.1" class="tl" text-anchor="end" textLength="16.65" lengthAdjust="spacingAndGlyphs">11500</text>
<line x1="398.5" y1="113" x2="401.7" y2="113" class="tk"/>
<text x="396.7" y="114.8" class="tl" text-anchor="end" textLength="16.65" lengthAdjust="spacingAndGlyphs">11250</text>
<line x1="399.9" y1="68.55" x2="401.7" y2="68.55" class="tk"/>
<line x1="399.9" y1="81.25" x2="401.7" y2="81.25" class="tk"/>
<line x1="399.9" y1="93.95" x2="401.7" y2="93.95" class="tk"/>
<line x1="399.9" y1="106.65" x2="401.7" y2="106.65" class="tk"/>
<line x1="398.5" y1="118.7" x2="401.7" y2="118.7" class="tk"/>
<text x="396.7" y="120.5" class="tl" text-anchor="end" textLength="16.65" lengthAdjust="spacingAndGlyphs">11000</text>
<line x1="398.5" y1="131.63" x2="401.7" y2="131.63" class="tk"/>
<text x="396.7" y="133.43" class="tl" text-anchor="end" textLength="16.65" lengthAdjust="spacingAndGlyphs">10750</text>
<line x1="398.5" y1="144.56" x2="401.7" y2="144.56" class="tk"/>
<text x="396.7" y="146.36" class="tl" text-anchor="end" textLength="16.65" lengthAdjust="spacingAndGlyphs">10500</text>
<line x1="398.5" y1="157.49" x2="401.7" y2="157.49" class="tk"/>
<text x="396.7" y="159.29" class="tl" text-anchor="end" textLength="16.65" lengthAdjust="spacingAndGlyphs">10250</text>
<line x1="398.5" y1="170.42" x2="401.7" y2="170.42" class="tk"/>
<text x="396.7" y="172.22" class="tl" text-anchor="end" textLength="16.65" lengthAdjust="spacingAndGlyphs">10000</text>
<line x1="399.9" y1="125.17" x2="401.7" y2="125.17" class="tk"/>
<line x1="399.9" y1="138.09" x2="401.7" y2="138.09" class="tk"/>
<line x1="399.9" y1="151.03" x2="401.7" y2="151.03" class="tk"/>
<line x1="399.9" y1="163.95" x2="401.7" y2="163.95" class="tk"/>
<line x1="401.7" y1="175.4" x2="401.7" y2="178" class="tk"/>
<line x1="419.3" y1="175.4" x2="419.3" y2="177" class="tk"/>
<line x1="436.9" y1="175.4" x2="436.9" y2="178" class="tk"/>
<line x1="454.5" y1="175.4" x2="454.5" y2="177" class="tk"/>
<line x1="472.1" y1="175.4" x2="472.1" y2="178" class="tk"/>
<line x1="489.7" y1="175.4" x2="489.7" y2="177" class="tk"/>
<line x1="507.3" y1="175.4" x2="507.3" y2="178" class="tk"/>
<line x1="524.9" y1="175.4" x2="524.9" y2="177" class="tk"/>
<line x1="542.5" y1="175.4" x2="542.5" y2="178" class="tk"/>
<text x="401.7" y="183.2" class="tl" text-anchor="middle" textLength="10.35" lengthAdjust="spacingAndGlyphs">850</text>
<text x="436.9" y="183.2" class="tl" text-anchor="middle" textLength="10.35" lengthAdjust="spacingAndGlyphs">855</text>
<text x="472.1" y="183.2" class="tl" text-anchor="middle" textLength="10.35" lengthAdjust="spacingAndGlyphs">860</text>
<text x="507.3" y="183.2" class="tl" text-anchor="middle" textLength="10.35" lengthAdjust="spacingAndGlyphs">865</text>
<text x="542.5" y="183.2" class="tl" text-anchor="middle" textLength="10.35" lengthAdjust="spacingAndGlyphs">870</text>
<rect x="401.7" y="5.7" width="140.8" height="169.7" class="fr"/>
<line x1="401.7" y1="62.3" x2="542.5" y2="62.3" class="dv"/>
<line x1="401.7" y1="118.7" x2="542.5" y2="118.7" class="dv"/>
<text x="436.4" y="193.5" class="xl" textLength="61.4" lengthAdjust="spacingAndGlyphs">Binding Energy (eV)</text>
<text transform="translate(375.75,106.15) rotate(-90)" class="yl" style="font-size:5.0px" textLength="30.3" lengthAdjust="spacingAndGlyphs">Intensity (a.u.)</text>
<line x1="29.2" y1="203" x2="32.4" y2="203" class="tk"/>
<text x="27.4" y="204.8" class="tl" text-anchor="end" textLength="16.65" lengthAdjust="spacingAndGlyphs">10000</text>
<line x1="29.2" y1="212.92" x2="32.4" y2="212.92" class="tk"/>
<text x="27.4" y="214.72" class="tl" text-anchor="end" textLength="13.32" lengthAdjust="spacingAndGlyphs">9000</text>
<line x1="29.2" y1="222.84" x2="32.4" y2="222.84" class="tk"/>
<text x="27.4" y="224.64" class="tl" text-anchor="end" textLength="13.32" lengthAdjust="spacingAndGlyphs">8000</text>
<line x1="29.2" y1="232.76" x2="32.4" y2="232.76" class="tk"/>
<text x="27.4" y="234.56" class="tl" text-anchor="end" textLength="13.32" lengthAdjust="spacingAndGlyphs">7000</text>
<line x1="29.2" y1="242.68" x2="32.4" y2="242.68" class="tk"/>
<text x="27.4" y="244.48" class="tl" text-anchor="end" textLength="13.32" lengthAdjust="spacingAndGlyphs">6000</text>
<line x1="29.2" y1="252.6" x2="32.4" y2="252.6" class="tk"/>
<text x="27.4" y="254.4" class="tl" text-anchor="end" textLength="13.32" lengthAdjust="spacingAndGlyphs">5000</text>
<line x1="30.6" y1="207.96" x2="32.4" y2="207.96" class="tk"/>
<line x1="30.6" y1="217.88" x2="32.4" y2="217.88" class="tk"/>
<line x1="30.6" y1="227.8" x2="32.4" y2="227.8" class="tk"/>
<line x1="30.6" y1="237.72" x2="32.4" y2="237.72" class="tk"/>
<line x1="30.6" y1="247.64" x2="32.4" y2="247.64" class="tk"/>
<line x1="29.2" y1="257.8" x2="32.4" y2="257.8" class="tk"/>
<text x="27.4" y="259.6" class="tl" text-anchor="end" textLength="16.65" lengthAdjust="spacingAndGlyphs">10000</text>
<line x1="29.2" y1="267.78" x2="32.4" y2="267.78" class="tk"/>
<text x="27.4" y="269.58" class="tl" text-anchor="end" textLength="13.32" lengthAdjust="spacingAndGlyphs">9000</text>
<line x1="29.2" y1="277.76" x2="32.4" y2="277.76" class="tk"/>
<text x="27.4" y="279.56" class="tl" text-anchor="end" textLength="13.32" lengthAdjust="spacingAndGlyphs">8000</text>
<line x1="29.2" y1="287.74" x2="32.4" y2="287.74" class="tk"/>
<text x="27.4" y="289.54" class="tl" text-anchor="end" textLength="13.32" lengthAdjust="spacingAndGlyphs">7000</text>
<line x1="29.2" y1="297.72" x2="32.4" y2="297.72" class="tk"/>
<text x="27.4" y="299.52" class="tl" text-anchor="end" textLength="13.32" lengthAdjust="spacingAndGlyphs">6000</text>
<line x1="29.2" y1="307.7" x2="32.4" y2="307.7" class="tk"/>
<text x="27.4" y="309.5" class="tl" text-anchor="end" textLength="13.32" lengthAdjust="spacingAndGlyphs">5000</text>
<line x1="30.6" y1="262.79" x2="32.4" y2="262.79" class="tk"/>
<line x1="30.6" y1="272.77" x2="32.4" y2="272.77" class="tk"/>
<line x1="30.6" y1="282.75" x2="32.4" y2="282.75" class="tk"/>
<line x1="30.6" y1="292.73" x2="32.4" y2="292.73" class="tk"/>
<line x1="30.6" y1="302.71" x2="32.4" y2="302.71" class="tk"/>
<line x1="30.6" y1="312.69" x2="32.4" y2="312.69" class="tk"/>
<line x1="29.2" y1="317.3" x2="32.4" y2="317.3" class="tk"/>
<text x="27.4" y="319.1" class="tl" text-anchor="end" textLength="13.32" lengthAdjust="spacingAndGlyphs">9000</text>
<line x1="29.2" y1="327.27" x2="32.4" y2="327.27" class="tk"/>
<text x="27.4" y="329.07" class="tl" text-anchor="end" textLength="13.32" lengthAdjust="spacingAndGlyphs">8000</text>
<line x1="29.2" y1="337.24" x2="32.4" y2="337.24" class="tk"/>
<text x="27.4" y="339.04" class="tl" text-anchor="end" textLength="13.32" lengthAdjust="spacingAndGlyphs">7000</text>
<line x1="29.2" y1="347.21" x2="32.4" y2="347.21" class="tk"/>
<text x="27.4" y="349.01" class="tl" text-anchor="end" textLength="13.32" lengthAdjust="spacingAndGlyphs">6000</text>
<line x1="29.2" y1="357.18" x2="32.4" y2="357.18" class="tk"/>
<text x="27.4" y="358.98" class="tl" text-anchor="end" textLength="13.32" lengthAdjust="spacingAndGlyphs">5000</text>
<line x1="29.2" y1="367.15" x2="32.4" y2="367.15" class="tk"/>
<text x="27.4" y="368.95" class="tl" text-anchor="end" textLength="13.32" lengthAdjust="spacingAndGlyphs">4000</text>
<line x1="29.2" y1="377.12" x2="32.4" y2="377.12" class="tk"/>
<text x="27.4" y="378.92" class="tl" text-anchor="end" textLength="13.32" lengthAdjust="spacingAndGlyphs">3000</text>
<line x1="30.6" y1="322.29" x2="32.4" y2="322.29" class="tk"/>
<line x1="30.6" y1="332.25" x2="32.4" y2="332.25" class="tk"/>
<line x1="30.6" y1="342.23" x2="32.4" y2="342.23" class="tk"/>
<line x1="30.6" y1="352.19" x2="32.4" y2="352.19" class="tk"/>
<line x1="30.6" y1="362.17" x2="32.4" y2="362.17" class="tk"/>
<line x1="30.6" y1="372.13" x2="32.4" y2="372.13" class="tk"/>
<line x1="36.97" y1="377.2" x2="36.97" y2="379.8" class="tk"/>
<line x1="48.39" y1="377.2" x2="48.39" y2="378.8" class="tk"/>
<line x1="59.81" y1="377.2" x2="59.81" y2="379.8" class="tk"/>
<line x1="71.23" y1="377.2" x2="71.23" y2="378.8" class="tk"/>
<line x1="82.65" y1="377.2" x2="82.65" y2="379.8" class="tk"/>
<line x1="94.07" y1="377.2" x2="94.07" y2="378.8" class="tk"/>
<line x1="105.49" y1="377.2" x2="105.49" y2="379.8" class="tk"/>
<line x1="116.91" y1="377.2" x2="116.91" y2="378.8" class="tk"/>
<line x1="128.33" y1="377.2" x2="128.33" y2="379.8" class="tk"/>
<line x1="139.75" y1="377.2" x2="139.75" y2="378.8" class="tk"/>
<line x1="151.17" y1="377.2" x2="151.17" y2="379.8" class="tk"/>
<line x1="162.59" y1="377.2" x2="162.59" y2="378.8" class="tk"/>
<line x1="174.01" y1="377.2" x2="174.01" y2="379.8" class="tk"/>
<text x="36.97" y="385" class="tl" text-anchor="middle" textLength="10.35" lengthAdjust="spacingAndGlyphs">705</text>
<text x="59.81" y="385" class="tl" text-anchor="middle" textLength="10.35" lengthAdjust="spacingAndGlyphs">710</text>
<text x="82.65" y="385" class="tl" text-anchor="middle" textLength="10.35" lengthAdjust="spacingAndGlyphs">715</text>
<text x="105.49" y="385" class="tl" text-anchor="middle" textLength="10.35" lengthAdjust="spacingAndGlyphs">720</text>
<text x="128.33" y="385" class="tl" text-anchor="middle" textLength="10.35" lengthAdjust="spacingAndGlyphs">725</text>
<text x="151.17" y="385" class="tl" text-anchor="middle" textLength="10.35" lengthAdjust="spacingAndGlyphs">730</text>
<text x="174.01" y="385" class="tl" text-anchor="middle" textLength="10.35" lengthAdjust="spacingAndGlyphs">735</text>
<rect x="32.4" y="198" width="141.6" height="179.2" class="fr"/>
<line x1="32.4" y1="257.7" x2="174" y2="257.7" class="dv"/>
<line x1="32.4" y1="317.4" x2="174" y2="317.4" class="dv"/>
<text x="67.7" y="395.5" class="xl" textLength="61" lengthAdjust="spacingAndGlyphs">Binding Energy (eV)</text>
<text transform="translate(7.52,307.3) rotate(-90)" class="yl" style="font-size:5.4px" textLength="35.8" lengthAdjust="spacingAndGlyphs">Intensity (a.u.)</text>
<line x1="213.8" y1="205.6" x2="217" y2="205.6" class="tk"/>
<text x="212" y="207.4" class="tl" text-anchor="end" textLength="13.32" lengthAdjust="spacingAndGlyphs">1500</text>
<line x1="213.8" y1="225.8" x2="217" y2="225.8" class="tk"/>
<text x="212" y="227.6" class="tl" text-anchor="end" textLength="13.32" lengthAdjust="spacingAndGlyphs">1000</text>
<line x1="213.8" y1="246" x2="217" y2="246" class="tk"/>
<text x="212" y="247.8" class="tl" text-anchor="end" textLength="9.99" lengthAdjust="spacingAndGlyphs">500</text>
<line x1="215.2" y1="215.7" x2="217" y2="215.7" class="tk"/>
<line x1="215.2" y1="235.9" x2="217" y2="235.9" class="tk"/>
<line x1="215.2" y1="256.1" x2="217" y2="256.1" class="tk"/>
<line x1="213.8" y1="265.6" x2="217" y2="265.6" class="tk"/>
<text x="212" y="267.4" class="tl" text-anchor="end" textLength="13.32" lengthAdjust="spacingAndGlyphs">1500</text>
<line x1="213.8" y1="285.6" x2="217" y2="285.6" class="tk"/>
<text x="212" y="287.4" class="tl" text-anchor="end" textLength="13.32" lengthAdjust="spacingAndGlyphs">1000</text>
<line x1="213.8" y1="305.6" x2="217" y2="305.6" class="tk"/>
<text x="212" y="307.4" class="tl" text-anchor="end" textLength="9.99" lengthAdjust="spacingAndGlyphs">500</text>
<line x1="215.2" y1="275.6" x2="217" y2="275.6" class="tk"/>
<line x1="215.2" y1="295.6" x2="217" y2="295.6" class="tk"/>
<line x1="215.2" y1="315.6" x2="217" y2="315.6" class="tk"/>
<line x1="213.8" y1="325.3" x2="217" y2="325.3" class="tk"/>
<text x="212" y="327.1" class="tl" text-anchor="end" textLength="13.32" lengthAdjust="spacingAndGlyphs">1500</text>
<line x1="213.8" y1="345.25" x2="217" y2="345.25" class="tk"/>
<text x="212" y="347.05" class="tl" text-anchor="end" textLength="13.32" lengthAdjust="spacingAndGlyphs">1000</text>
<line x1="213.8" y1="365.2" x2="217" y2="365.2" class="tk"/>
<text x="212" y="367" class="tl" text-anchor="end" textLength="9.99" lengthAdjust="spacingAndGlyphs">500</text>
<line x1="215.2" y1="335.28" x2="217" y2="335.28" class="tk"/>
<line x1="215.2" y1="355.23" x2="217" y2="355.23" class="tk"/>
<line x1="215.2" y1="375.18" x2="217" y2="375.18" class="tk"/>
<line x1="217" y1="377.2" x2="217" y2="379.8" class="tk"/>
<line x1="224.04" y1="377.2" x2="224.04" y2="378.8" class="tk"/>
<line x1="231.09" y1="377.2" x2="231.09" y2="379.8" class="tk"/>
<line x1="238.13" y1="377.2" x2="238.13" y2="378.8" class="tk"/>
<line x1="245.18" y1="377.2" x2="245.18" y2="379.8" class="tk"/>
<line x1="252.22" y1="377.2" x2="252.22" y2="378.8" class="tk"/>
<line x1="259.27" y1="377.2" x2="259.27" y2="379.8" class="tk"/>
<line x1="266.31" y1="377.2" x2="266.31" y2="378.8" class="tk"/>
<line x1="273.36" y1="377.2" x2="273.36" y2="379.8" class="tk"/>
<line x1="280.4" y1="377.2" x2="280.4" y2="378.8" class="tk"/>
<line x1="287.45" y1="377.2" x2="287.45" y2="379.8" class="tk"/>
<line x1="294.5" y1="377.2" x2="294.5" y2="378.8" class="tk"/>
<line x1="301.54" y1="377.2" x2="301.54" y2="379.8" class="tk"/>
<line x1="308.58" y1="377.2" x2="308.58" y2="378.8" class="tk"/>
<line x1="315.63" y1="377.2" x2="315.63" y2="379.8" class="tk"/>
<line x1="322.68" y1="377.2" x2="322.68" y2="378.8" class="tk"/>
<line x1="329.72" y1="377.2" x2="329.72" y2="379.8" class="tk"/>
<line x1="336.76" y1="377.2" x2="336.76" y2="378.8" class="tk"/>
<line x1="343.81" y1="377.2" x2="343.81" y2="379.8" class="tk"/>
<line x1="350.86" y1="377.2" x2="350.86" y2="378.8" class="tk"/>
<line x1="357.9" y1="377.2" x2="357.9" y2="379.8" class="tk"/>
<text x="217" y="385" class="tl" text-anchor="middle" textLength="6.9" lengthAdjust="spacingAndGlyphs">48</text>
<text x="231.09" y="385" class="tl" text-anchor="middle" textLength="6.9" lengthAdjust="spacingAndGlyphs">50</text>
<text x="245.18" y="385" class="tl" text-anchor="middle" textLength="6.9" lengthAdjust="spacingAndGlyphs">52</text>
<text x="259.27" y="385" class="tl" text-anchor="middle" textLength="6.9" lengthAdjust="spacingAndGlyphs">54</text>
<text x="273.36" y="385" class="tl" text-anchor="middle" textLength="6.9" lengthAdjust="spacingAndGlyphs">56</text>
<text x="287.45" y="385" class="tl" text-anchor="middle" textLength="6.9" lengthAdjust="spacingAndGlyphs">58</text>
<text x="301.54" y="385" class="tl" text-anchor="middle" textLength="6.9" lengthAdjust="spacingAndGlyphs">60</text>
<text x="315.63" y="385" class="tl" text-anchor="middle" textLength="6.9" lengthAdjust="spacingAndGlyphs">62</text>
<text x="329.72" y="385" class="tl" text-anchor="middle" textLength="6.9" lengthAdjust="spacingAndGlyphs">64</text>
<text x="343.81" y="385" class="tl" text-anchor="middle" textLength="6.9" lengthAdjust="spacingAndGlyphs">66</text>
<text x="357.9" y="385" class="tl" text-anchor="middle" textLength="6.9" lengthAdjust="spacingAndGlyphs">68</text>
<rect x="217" y="198.2" width="140.9" height="179" class="fr"/>
<line x1="217" y1="257.7" x2="357.9" y2="257.7" class="dv"/>
<line x1="217" y1="317.4" x2="357.9" y2="317.4" class="dv"/>
<text x="251.8" y="395.8" class="xl" textLength="61.2" lengthAdjust="spacingAndGlyphs">Binding Energy (eV)</text>
<text transform="translate(192.72,307.3) rotate(-90)" class="yl" style="font-size:5.4px" textLength="35.8" lengthAdjust="spacingAndGlyphs">Intensity (a.u.)</text>
<line x1="398.5" y1="198" x2="401.7" y2="198" class="tk"/>
<text x="396.7" y="199.8" class="tl" text-anchor="end" textLength="13.32" lengthAdjust="spacingAndGlyphs">8000</text>
<line x1="398.5" y1="206.14" x2="401.7" y2="206.14" class="tk"/>
<text x="396.7" y="207.94" class="tl" text-anchor="end" textLength="13.32" lengthAdjust="spacingAndGlyphs">7000</text>
<line x1="398.5" y1="214.28" x2="401.7" y2="214.28" class="tk"/>
<text x="396.7" y="216.08" class="tl" text-anchor="end" textLength="13.32" lengthAdjust="spacingAndGlyphs">6000</text>
<line x1="398.5" y1="222.42" x2="401.7" y2="222.42" class="tk"/>
<text x="396.7" y="224.22" class="tl" text-anchor="end" textLength="13.32" lengthAdjust="spacingAndGlyphs">5000</text>
<line x1="398.5" y1="230.56" x2="401.7" y2="230.56" class="tk"/>
<text x="396.7" y="232.36" class="tl" text-anchor="end" textLength="13.32" lengthAdjust="spacingAndGlyphs">4000</text>
<line x1="398.5" y1="238.7" x2="401.7" y2="238.7" class="tk"/>
<text x="396.7" y="240.5" class="tl" text-anchor="end" textLength="13.32" lengthAdjust="spacingAndGlyphs">3000</text>
<line x1="398.5" y1="246.84" x2="401.7" y2="246.84" class="tk"/>
<text x="396.7" y="248.64" class="tl" text-anchor="end" textLength="13.32" lengthAdjust="spacingAndGlyphs">2000</text>
<line x1="398.5" y1="254.98" x2="401.7" y2="254.98" class="tk"/>
<text x="396.7" y="256.78" class="tl" text-anchor="end" textLength="13.32" lengthAdjust="spacingAndGlyphs">1000</text>
<line x1="399.9" y1="202.07" x2="401.7" y2="202.07" class="tk"/>
<line x1="399.9" y1="210.21" x2="401.7" y2="210.21" class="tk"/>
<line x1="399.9" y1="218.35" x2="401.7" y2="218.35" class="tk"/>
<line x1="399.9" y1="226.49" x2="401.7" y2="226.49" class="tk"/>
<line x1="399.9" y1="234.63" x2="401.7" y2="234.63" class="tk"/>
<line x1="399.9" y1="242.77" x2="401.7" y2="242.77" class="tk"/>
<line x1="399.9" y1="250.91" x2="401.7" y2="250.91" class="tk"/>
<line x1="398.5" y1="266.4" x2="401.7" y2="266.4" class="tk"/>
<text x="396.7" y="268.2" class="tl" text-anchor="end" textLength="13.32" lengthAdjust="spacingAndGlyphs">7000</text>
<line x1="398.5" y1="274.43" x2="401.7" y2="274.43" class="tk"/>
<text x="396.7" y="276.23" class="tl" text-anchor="end" textLength="13.32" lengthAdjust="spacingAndGlyphs">6000</text>
<line x1="398.5" y1="282.46" x2="401.7" y2="282.46" class="tk"/>
<text x="396.7" y="284.26" class="tl" text-anchor="end" textLength="13.32" lengthAdjust="spacingAndGlyphs">5000</text>
<line x1="398.5" y1="290.49" x2="401.7" y2="290.49" class="tk"/>
<text x="396.7" y="292.29" class="tl" text-anchor="end" textLength="13.32" lengthAdjust="spacingAndGlyphs">4000</text>
<line x1="398.5" y1="298.52" x2="401.7" y2="298.52" class="tk"/>
<text x="396.7" y="300.32" class="tl" text-anchor="end" textLength="13.32" lengthAdjust="spacingAndGlyphs">3000</text>
<line x1="398.5" y1="306.55" x2="401.7" y2="306.55" class="tk"/>
<text x="396.7" y="308.35" class="tl" text-anchor="end" textLength="13.32" lengthAdjust="spacingAndGlyphs">2000</text>
<line x1="398.5" y1="314.58" x2="401.7" y2="314.58" class="tk"/>
<text x="396.7" y="316.38" class="tl" text-anchor="end" textLength="13.32" lengthAdjust="spacingAndGlyphs">1000</text>
<line x1="399.9" y1="262.38" x2="401.7" y2="262.38" class="tk"/>
<line x1="399.9" y1="270.41" x2="401.7" y2="270.41" class="tk"/>
<line x1="399.9" y1="278.44" x2="401.7" y2="278.44" class="tk"/>
<line x1="399.9" y1="286.47" x2="401.7" y2="286.47" class="tk"/>
<line x1="399.9" y1="294.5" x2="401.7" y2="294.5" class="tk"/>
<line x1="399.9" y1="302.53" x2="401.7" y2="302.53" class="tk"/>
<line x1="399.9" y1="310.56" x2="401.7" y2="310.56" class="tk"/>
<line x1="398.5" y1="325.3" x2="401.7" y2="325.3" class="tk"/>
<text x="396.7" y="327.1" class="tl" text-anchor="end" textLength="13.32" lengthAdjust="spacingAndGlyphs">7000</text>
<line x1="398.5" y1="333.5" x2="401.7" y2="333.5" class="tk"/>
<text x="396.7" y="335.3" class="tl" text-anchor="end" textLength="13.32" lengthAdjust="spacingAndGlyphs">6000</text>
<line x1="398.5" y1="341.7" x2="401.7" y2="341.7" class="tk"/>
<text x="396.7" y="343.5" class="tl" text-anchor="end" textLength="13.32" lengthAdjust="spacingAndGlyphs">5000</text>
<line x1="398.5" y1="349.9" x2="401.7" y2="349.9" class="tk"/>
<text x="396.7" y="351.7" class="tl" text-anchor="end" textLength="13.32" lengthAdjust="spacingAndGlyphs">4000</text>
<line x1="398.5" y1="358.1" x2="401.7" y2="358.1" class="tk"/>
<text x="396.7" y="359.9" class="tl" text-anchor="end" textLength="13.32" lengthAdjust="spacingAndGlyphs">3000</text>
<line x1="398.5" y1="366.3" x2="401.7" y2="366.3" class="tk"/>
<text x="396.7" y="368.1" class="tl" text-anchor="end" textLength="13.32" lengthAdjust="spacingAndGlyphs">2000</text>
<line x1="398.5" y1="374.5" x2="401.7" y2="374.5" class="tk"/>
<text x="396.7" y="376.3" class="tl" text-anchor="end" textLength="13.32" lengthAdjust="spacingAndGlyphs">1000</text>
<line x1="399.9" y1="321.2" x2="401.7" y2="321.2" class="tk"/>
<line x1="399.9" y1="329.4" x2="401.7" y2="329.4" class="tk"/>
<line x1="399.9" y1="337.6" x2="401.7" y2="337.6" class="tk"/>
<line x1="399.9" y1="345.8" x2="401.7" y2="345.8" class="tk"/>
<line x1="399.9" y1="354" x2="401.7" y2="354" class="tk"/>
<line x1="399.9" y1="362.2" x2="401.7" y2="362.2" class="tk"/>
<line x1="399.9" y1="370.4" x2="401.7" y2="370.4" class="tk"/>
<line x1="409.67" y1="377.2" x2="409.67" y2="379.8" class="tk"/>
<line x1="401.37" y1="377.2" x2="401.37" y2="378.8" class="tk"/>
<line x1="417.97" y1="377.2" x2="417.97" y2="378.8" class="tk"/>
<line x1="426.27" y1="377.2" x2="426.27" y2="379.8" class="tk"/>
<line x1="434.57" y1="377.2" x2="434.57" y2="378.8" class="tk"/>
<line x1="442.87" y1="377.2" x2="442.87" y2="379.8" class="tk"/>
<line x1="451.17" y1="377.2" x2="451.17" y2="378.8" class="tk"/>
<line x1="459.47" y1="377.2" x2="459.47" y2="379.8" class="tk"/>
<line x1="467.77" y1="377.2" x2="467.77" y2="378.8" class="tk"/>
<line x1="476.07" y1="377.2" x2="476.07" y2="379.8" class="tk"/>
<line x1="484.37" y1="377.2" x2="484.37" y2="378.8" class="tk"/>
<line x1="492.67" y1="377.2" x2="492.67" y2="379.8" class="tk"/>
<line x1="500.97" y1="377.2" x2="500.97" y2="378.8" class="tk"/>
<line x1="509.27" y1="377.2" x2="509.27" y2="379.8" class="tk"/>
<line x1="517.57" y1="377.2" x2="517.57" y2="378.8" class="tk"/>
<line x1="525.87" y1="377.2" x2="525.87" y2="379.8" class="tk"/>
<line x1="534.17" y1="377.2" x2="534.17" y2="378.8" class="tk"/>
<line x1="542.47" y1="377.2" x2="542.47" y2="379.8" class="tk"/>
<text x="409.67" y="385" class="tl" text-anchor="middle" textLength="10.35" lengthAdjust="spacingAndGlyphs">524</text>
<text x="426.27" y="385" class="tl" text-anchor="middle" textLength="10.35" lengthAdjust="spacingAndGlyphs">526</text>
<text x="442.87" y="385" class="tl" text-anchor="middle" textLength="10.35" lengthAdjust="spacingAndGlyphs">528</text>
<text x="459.47" y="385" class="tl" text-anchor="middle" textLength="10.35" lengthAdjust="spacingAndGlyphs">530</text>
<text x="476.07" y="385" class="tl" text-anchor="middle" textLength="10.35" lengthAdjust="spacingAndGlyphs">532</text>
<text x="492.67" y="385" class="tl" text-anchor="middle" textLength="10.35" lengthAdjust="spacingAndGlyphs">534</text>
<text x="509.27" y="385" class="tl" text-anchor="middle" textLength="10.35" lengthAdjust="spacingAndGlyphs">536</text>
<text x="525.87" y="385" class="tl" text-anchor="middle" textLength="10.35" lengthAdjust="spacingAndGlyphs">538</text>
<text x="542.47" y="385" class="tl" text-anchor="middle" textLength="10.35" lengthAdjust="spacingAndGlyphs">540</text>
<rect x="401.7" y="198" width="140.8" height="179.2" class="fr"/>
<line x1="401.7" y1="257.7" x2="542.5" y2="257.7" class="dv"/>
<line x1="401.7" y1="317.4" x2="542.5" y2="317.4" class="dv"/>
<text x="436.5" y="395.4" class="xl" textLength="61.2" lengthAdjust="spacingAndGlyphs">Binding Energy (eV)</text>
<text transform="translate(375.72,307.6) rotate(-90)" class="yl" style="font-size:5.4px" textLength="35.8" lengthAdjust="spacingAndGlyphs">Intensity (a.u.)</text>
<text x="39" y="18.8" class="lab" textLength="12" lengthAdjust="spacingAndGlyphs" >(a)</text>
<text x="223.5" y="19.8" class="lab" textLength="12" lengthAdjust="spacingAndGlyphs" >(b)</text>
<text x="407" y="18.4" class="lab" textLength="10.7" lengthAdjust="spacingAndGlyphs" >(c)</text>
<text x="38" y="211.6" class="lab" textLength="13" lengthAdjust="spacingAndGlyphs" >(d)</text>
<text x="222" y="211.6" class="lab" textLength="12" lengthAdjust="spacingAndGlyphs" >(e)</text>
<text x="407" y="211" class="lab" textLength="11" lengthAdjust="spacingAndGlyphs" >(f)</text>
<text x="142.3" y="13.5" class="ttl" textLength="27.7" lengthAdjust="spacingAndGlyphs" >Cu2p<tspan font-size="3.6" dy="1.8">3/2</tspan></text>
<text x="324.5" y="13.8" class="ttl" textLength="29.1" lengthAdjust="spacingAndGlyphs" >CuLMM</text>
<text x="514.7" y="13.1" class="ttl" textLength="24.4" lengthAdjust="spacingAndGlyphs" >Ni2p<tspan font-size="3.6" dy="1.8">3/2</tspan></text>
<text x="150.9" y="205.8" class="ttl2" textLength="18.9" lengthAdjust="spacingAndGlyphs" >Fe2p</text>
<text x="334.9" y="205.8" class="ttl2" textLength="18.9" lengthAdjust="spacingAndGlyphs" >Fe3p</text>
<text x="523.1" y="206.2" class="ttl2" textLength="14.9" lengthAdjust="spacingAndGlyphs" >O1s</text>
<text x="69.7" y="16.3" class="an" textLength="7" lengthAdjust="spacingAndGlyphs" >Cu</text>
<text x="76.9" y="14" class="sup" textLength="3" lengthAdjust="spacingAndGlyphs" >2+</text>
<text x="115.9" y="32.8" class="an" textLength="7.9" lengthAdjust="spacingAndGlyphs" >Cu</text>
<text x="124.4" y="29.5" class="sup" textLength="4.5" lengthAdjust="spacingAndGlyphs" >2+</text>
<text x="124.4" y="35.2" class="sup" textLength="5.1" lengthAdjust="spacingAndGlyphs" >sat</text>
<text x="278.1" y="14.7" class="an" textLength="7.8" lengthAdjust="spacingAndGlyphs" >Cu</text>
<text x="287" y="11.8" class="sup" textLength="4" lengthAdjust="spacingAndGlyphs" >2+</text>
<text x="442.1" y="13.8" class="an" textLength="6.2" lengthAdjust="spacingAndGlyphs" >Ni</text>
<text x="449" y="10.9" class="sup" textLength="3.3" lengthAdjust="spacingAndGlyphs" >2+</text>
<text x="60.1" y="209.5" class="an" textLength="15.4" lengthAdjust="spacingAndGlyphs" >Fe2p</text>
<text x="76" y="211.6" class="sup" textLength="5" lengthAdjust="spacingAndGlyphs" >3/2</text>
<text x="90.1" y="216.8" class="an" textLength="7.3" lengthAdjust="spacingAndGlyphs" >Fe</text>
<text x="98.7" y="213.8" class="sup" textLength="3.7" lengthAdjust="spacingAndGlyphs" >3+</text>
<text x="98.3" y="219.4" class="sup" textLength="5" lengthAdjust="spacingAndGlyphs" >sat</text>
<text x="126.9" y="212.7" class="an" textLength="15.6" lengthAdjust="spacingAndGlyphs" >Fe2p</text>
<text x="143.3" y="214.9" class="sup" textLength="4.7" lengthAdjust="spacingAndGlyphs" >1/2</text>
<text x="265.9" y="212.9" class="an" textLength="8.4" lengthAdjust="spacingAndGlyphs" >Fe</text>
<text x="275" y="210" class="sup" textLength="3.3" lengthAdjust="spacingAndGlyphs" >3+</text>
<text x="463" y="210.5" class="an" textLength="16.7" lengthAdjust="spacingAndGlyphs" >529.8</text>
<text x="71.7" y="166.4" class="an" textLength="17.2" lengthAdjust="spacingAndGlyphs" >933.5</text>
<text x="266.5" y="167.8" class="an" textLength="16.8" lengthAdjust="spacingAndGlyphs" >917.6</text>
<text x="427.3" y="167.8" class="an" textLength="16.7" lengthAdjust="spacingAndGlyphs" >854.8</text>
<text x="56.2" y="359.5" class="an" textLength="16.7" lengthAdjust="spacingAndGlyphs" >710.8</text>
<text x="117.3" y="353.5" class="an" textLength="16.7" lengthAdjust="spacingAndGlyphs" >724.4</text>
<text x="265.2" y="369.5" class="an" textLength="13.4" lengthAdjust="spacingAndGlyphs" >55.6</text>
<text x="108.1" y="57.9" class="smp" textLength="63.1" lengthAdjust="spacingAndGlyphs" >(Cu<tspan class="sb" dy="1.9">0.5</tspan><tspan dy="-1.9">Ni</tspan><tspan class="sb" dy="1.9">0.5</tspan><tspan dy="-1.9">)</tspan><tspan class="sb" dy="1.9">0.75</tspan><tspan dy="-1.9">Fe</tspan><tspan class="sb" dy="1.9">2.25</tspan><tspan dy="-1.9">O</tspan><tspan class="sb" dy="1.9">4</tspan></text>
<text x="112.8" y="114.1" class="smp" textLength="58.4" lengthAdjust="spacingAndGlyphs" >(Cu<tspan class="sb" dy="1.9">0.5</tspan><tspan dy="-1.9">Ni</tspan><tspan class="sb" dy="1.9">0.5</tspan><tspan dy="-1.9">)</tspan><tspan class="sb" dy="1.9">0.5</tspan><tspan dy="-1.9">Fe</tspan><tspan class="sb" dy="1.9">2.5</tspan><tspan dy="-1.9">O</tspan><tspan class="sb" dy="1.9">4</tspan></text>
<text x="108" y="170.9" class="smp" textLength="63.2" lengthAdjust="spacingAndGlyphs" >(Cu<tspan class="sb" dy="1.9">0.5</tspan><tspan dy="-1.9">Ni</tspan><tspan class="sb" dy="1.9">0.5</tspan><tspan dy="-1.9">)</tspan><tspan class="sb" dy="1.9">0.25</tspan><tspan dy="-1.9">Fe</tspan><tspan class="sb" dy="1.9">2.75</tspan><tspan dy="-1.9">O</tspan><tspan class="sb" dy="1.9">4</tspan></text>
<text x="292.2" y="58.8" class="smp" textLength="62.4" lengthAdjust="spacingAndGlyphs" >(Cu<tspan class="sb" dy="1.9">0.5</tspan><tspan dy="-1.9">Ni</tspan><tspan class="sb" dy="1.9">0.5</tspan><tspan dy="-1.9">)</tspan><tspan class="sb" dy="1.9">0.75</tspan><tspan dy="-1.9">Fe</tspan><tspan class="sb" dy="1.9">2.25</tspan><tspan dy="-1.9">O</tspan><tspan class="sb" dy="1.9">4</tspan></text>
<text x="296.3" y="115.5" class="smp" textLength="58.3" lengthAdjust="spacingAndGlyphs" >(Cu<tspan class="sb" dy="1.9">0.5</tspan><tspan dy="-1.9">Ni</tspan><tspan class="sb" dy="1.9">0.5</tspan><tspan dy="-1.9">)</tspan><tspan class="sb" dy="1.9">0.5</tspan><tspan dy="-1.9">Fe</tspan><tspan class="sb" dy="1.9">2.5</tspan><tspan dy="-1.9">O</tspan><tspan class="sb" dy="1.9">4</tspan></text>
<text x="292.3" y="171.6" class="smp" textLength="61.5" lengthAdjust="spacingAndGlyphs" >(Cu<tspan class="sb" dy="1.9">0.5</tspan><tspan dy="-1.9">Ni</tspan><tspan class="sb" dy="1.9">0.5</tspan><tspan dy="-1.9">)</tspan><tspan class="sb" dy="1.9">0.25</tspan><tspan dy="-1.9">Fe</tspan><tspan class="sb" dy="1.9">2.75</tspan><tspan dy="-1.9">O</tspan><tspan class="sb" dy="1.9">4</tspan></text>
<text x="477.2" y="58" class="smp" textLength="62.4" lengthAdjust="spacingAndGlyphs" >(Cu<tspan class="sb" dy="1.9">0.5</tspan><tspan dy="-1.9">Ni</tspan><tspan class="sb" dy="1.9">0.5</tspan><tspan dy="-1.9">)</tspan><tspan class="sb" dy="1.9">0.75</tspan><tspan dy="-1.9">Fe</tspan><tspan class="sb" dy="1.9">2.25</tspan><tspan dy="-1.9">O</tspan><tspan class="sb" dy="1.9">4</tspan></text>
<text x="481.3" y="114.6" class="smp" textLength="58.3" lengthAdjust="spacingAndGlyphs" >(Cu<tspan class="sb" dy="1.9">0.5</tspan><tspan dy="-1.9">Ni</tspan><tspan class="sb" dy="1.9">0.5</tspan><tspan dy="-1.9">)</tspan><tspan class="sb" dy="1.9">0.5</tspan><tspan dy="-1.9">Fe</tspan><tspan class="sb" dy="1.9">2.5</tspan><tspan dy="-1.9">O</tspan><tspan class="sb" dy="1.9">4</tspan></text>
<text x="476.7" y="171" class="smp" textLength="62.1" lengthAdjust="spacingAndGlyphs" >(Cu<tspan class="sb" dy="1.9">0.5</tspan><tspan dy="-1.9">Ni</tspan><tspan class="sb" dy="1.9">0.5</tspan><tspan dy="-1.9">)</tspan><tspan class="sb" dy="1.9">0.25</tspan><tspan dy="-1.9">Fe</tspan><tspan class="sb" dy="1.9">2.75</tspan><tspan dy="-1.9">O</tspan><tspan class="sb" dy="1.9">4</tspan></text>
<text x="107.3" y="253" class="smp" textLength="64.7" lengthAdjust="spacingAndGlyphs" >(Cu<tspan class="sb" dy="1.9">0.5</tspan><tspan dy="-1.9">Ni</tspan><tspan class="sb" dy="1.9">0.5</tspan><tspan dy="-1.9">)</tspan><tspan class="sb" dy="1.9">0.75</tspan><tspan dy="-1.9">Fe</tspan><tspan class="sb" dy="1.9">2.25</tspan><tspan dy="-1.9">O</tspan><tspan class="sb" dy="1.9">4</tspan></text>
<text x="112.2" y="313" class="smp" textLength="58.4" lengthAdjust="spacingAndGlyphs" >(Cu<tspan class="sb" dy="1.9">0.5</tspan><tspan dy="-1.9">Ni</tspan><tspan class="sb" dy="1.9">0.5</tspan><tspan dy="-1.9">)</tspan><tspan class="sb" dy="1.9">0.5</tspan><tspan dy="-1.9">Fe</tspan><tspan class="sb" dy="1.9">2.5</tspan><tspan dy="-1.9">O</tspan><tspan class="sb" dy="1.9">4</tspan></text>
<text x="107.3" y="372" class="smp" textLength="63.3" lengthAdjust="spacingAndGlyphs" >(Cu<tspan class="sb" dy="1.9">0.5</tspan><tspan dy="-1.9">Ni</tspan><tspan class="sb" dy="1.9">0.5</tspan><tspan dy="-1.9">)</tspan><tspan class="sb" dy="1.9">0.25</tspan><tspan dy="-1.9">Fe</tspan><tspan class="sb" dy="1.9">2.75</tspan><tspan dy="-1.9">O</tspan><tspan class="sb" dy="1.9">4</tspan></text>
<text x="292.2" y="253" class="smp" textLength="62.4" lengthAdjust="spacingAndGlyphs" >(Cu<tspan class="sb" dy="1.9">0.5</tspan><tspan dy="-1.9">Ni</tspan><tspan class="sb" dy="1.9">0.5</tspan><tspan dy="-1.9">)</tspan><tspan class="sb" dy="1.9">0.75</tspan><tspan dy="-1.9">Fe</tspan><tspan class="sb" dy="1.9">2.25</tspan><tspan dy="-1.9">O</tspan><tspan class="sb" dy="1.9">4</tspan></text>
<text x="296.3" y="312.2" class="smp" textLength="58.3" lengthAdjust="spacingAndGlyphs" >(Cu<tspan class="sb" dy="1.9">0.5</tspan><tspan dy="-1.9">Ni</tspan><tspan class="sb" dy="1.9">0.5</tspan><tspan dy="-1.9">)</tspan><tspan class="sb" dy="1.9">0.5</tspan><tspan dy="-1.9">Fe</tspan><tspan class="sb" dy="1.9">2.5</tspan><tspan dy="-1.9">O</tspan><tspan class="sb" dy="1.9">4</tspan></text>
<text x="291.7" y="372.5" class="smp" textLength="62.5" lengthAdjust="spacingAndGlyphs" >(Cu<tspan class="sb" dy="1.9">0.5</tspan><tspan dy="-1.9">Ni</tspan><tspan class="sb" dy="1.9">0.5</tspan><tspan dy="-1.9">)</tspan><tspan class="sb" dy="1.9">0.25</tspan><tspan dy="-1.9">Fe</tspan><tspan class="sb" dy="1.9">2.75</tspan><tspan dy="-1.9">O</tspan><tspan class="sb" dy="1.9">4</tspan></text>
<text x="477.2" y="253" class="smp" textLength="62.4" lengthAdjust="spacingAndGlyphs" >(Cu<tspan class="sb" dy="1.9">0.5</tspan><tspan dy="-1.9">Ni</tspan><tspan class="sb" dy="1.9">0.5</tspan><tspan dy="-1.9">)</tspan><tspan class="sb" dy="1.9">0.75</tspan><tspan dy="-1.9">Fe</tspan><tspan class="sb" dy="1.9">2.25</tspan><tspan dy="-1.9">O</tspan><tspan class="sb" dy="1.9">4</tspan></text>
<text x="481.3" y="312.7" class="smp" textLength="58.3" lengthAdjust="spacingAndGlyphs" >(Cu<tspan class="sb" dy="1.9">0.5</tspan><tspan dy="-1.9">Ni</tspan><tspan class="sb" dy="1.9">0.5</tspan><tspan dy="-1.9">)</tspan><tspan class="sb" dy="1.9">0.5</tspan><tspan dy="-1.9">Fe</tspan><tspan class="sb" dy="1.9">2.5</tspan><tspan dy="-1.9">O</tspan><tspan class="sb" dy="1.9">4</tspan></text>
<text x="478" y="373" class="smp" textLength="61.6" lengthAdjust="spacingAndGlyphs" >(Cu<tspan class="sb" dy="1.9">0.5</tspan><tspan dy="-1.9">Ni</tspan><tspan class="sb" dy="1.9">0.5</tspan><tspan dy="-1.9">)</tspan><tspan class="sb" dy="1.9">0.25</tspan><tspan dy="-1.9">Fe</tspan><tspan class="sb" dy="1.9">2.75</tspan><tspan dy="-1.9">O</tspan><tspan class="sb" dy="1.9">4</tspan></text>
</svg></body></html>
